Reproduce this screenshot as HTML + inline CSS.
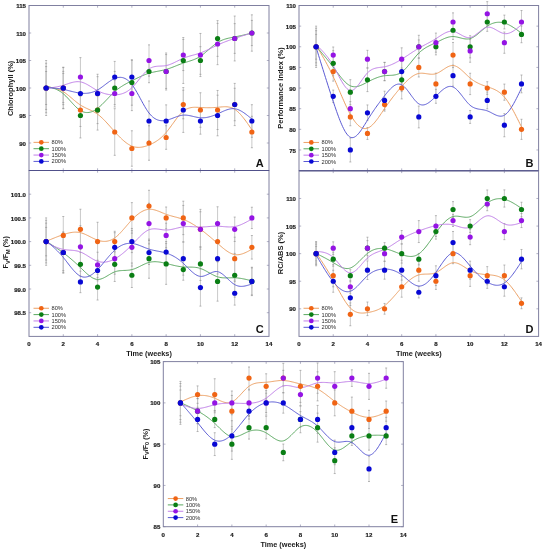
<!DOCTYPE html><html><head><meta charset="utf-8"><style>html,body{margin:0;padding:0;background:#fff;width:544px;height:550px;overflow:hidden}svg{display:block;filter:blur(0.35px)}text{font-family:"Liberation Sans", sans-serif}</style></head><body>
<svg width="544" height="550" viewBox="0 0 544 550">
<rect width="544" height="550" fill="#fff"/>
<g><path d="M46.14 60.50V115.50M63.29 67.20V108.80M80.43 93.54V126.46M97.57 89.92V130.08M114.71 108.68V155.32M131.86 130.77V166.23M149.00 125.74V160.26M166.14 125.69V149.31M183.29 90.20V118.80M200.43 92.76V127.24M217.57 90.48V129.52M234.71 83.40V125.60M251.86 116.27V147.73M46.14 66.55V109.45M63.29 73.45V102.55M80.43 93.05V137.95M97.57 96.40V123.60M114.71 71.37V104.63M131.86 59.78V105.22M149.00 60.29V82.71M166.14 52.98V90.02M183.29 37.54V83.46M200.43 46.68V74.32M217.57 20.64V56.36M234.71 16.06V60.94M251.86 20.42V45.58M46.14 71.50V104.50M63.29 67.58V108.42M80.43 57.61V96.39M97.57 76.67V110.33M114.71 80.01V106.99M131.86 76.37V110.63M149.00 44.88V76.12M166.14 54.54V88.46M183.29 39.46V70.54M200.43 33.46V76.54M217.57 23.34V64.66M234.71 23.62V53.38M251.86 14.83V51.17M46.14 63.25V112.75M63.29 71.36V104.64M80.43 78.13V108.87M97.57 74.26V112.74M114.71 61.40V92.60M131.86 60.28V93.72M149.00 100.97V141.03M166.14 104.86V137.14M183.29 87.59V132.41M200.43 107.82V134.18M217.57 95.19V135.81M234.71 88.24V120.76M251.86 104.69V137.31" stroke="#c4c4c4" stroke-width="0.9" fill="none"/><path d="M45.14 60.50h2M45.14 115.50h2M62.29 67.20h2M62.29 108.80h2M79.43 93.54h2M79.43 126.46h2M96.57 89.92h2M96.57 130.08h2M113.71 108.68h2M113.71 155.32h2M130.86 130.77h2M130.86 166.23h2M148.00 125.74h2M148.00 160.26h2M165.14 125.69h2M165.14 149.31h2M182.29 90.20h2M182.29 118.80h2M199.43 92.76h2M199.43 127.24h2M216.57 90.48h2M216.57 129.52h2M233.71 83.40h2M233.71 125.60h2M250.86 116.27h2M250.86 147.73h2M45.14 66.55h2M45.14 109.45h2M62.29 73.45h2M62.29 102.55h2M79.43 93.05h2M79.43 137.95h2M96.57 96.40h2M96.57 123.60h2M113.71 71.37h2M113.71 104.63h2M130.86 59.78h2M130.86 105.22h2M148.00 60.29h2M148.00 82.71h2M165.14 52.98h2M165.14 90.02h2M182.29 37.54h2M182.29 83.46h2M199.43 46.68h2M199.43 74.32h2M216.57 20.64h2M216.57 56.36h2M233.71 16.06h2M233.71 60.94h2M250.86 20.42h2M250.86 45.58h2M45.14 71.50h2M45.14 104.50h2M62.29 67.58h2M62.29 108.42h2M79.43 57.61h2M79.43 96.39h2M96.57 76.67h2M96.57 110.33h2M113.71 80.01h2M113.71 106.99h2M130.86 76.37h2M130.86 110.63h2M148.00 44.88h2M148.00 76.12h2M165.14 54.54h2M165.14 88.46h2M182.29 39.46h2M182.29 70.54h2M199.43 33.46h2M199.43 76.54h2M216.57 23.34h2M216.57 64.66h2M233.71 23.62h2M233.71 53.38h2M250.86 14.83h2M250.86 51.17h2M45.14 63.25h2M45.14 112.75h2M62.29 71.36h2M62.29 104.64h2M79.43 78.13h2M79.43 108.87h2M96.57 74.26h2M96.57 112.74h2M113.71 61.40h2M113.71 92.60h2M130.86 60.28h2M130.86 93.72h2M148.00 100.97h2M148.00 141.03h2M165.14 104.86h2M165.14 137.14h2M182.29 87.59h2M182.29 132.41h2M199.43 107.82h2M199.43 134.18h2M216.57 95.19h2M216.57 135.81h2M233.71 88.24h2M233.71 120.76h2M250.86 104.69h2M250.86 137.31h2" stroke="#8c8c8c" stroke-width="0.6" fill="none"/><path d="M46.14,86.72 L47.00,86.83 L47.86,86.95 L48.71,87.08 L49.57,87.20 L50.43,87.34 L51.29,87.49 L52.14,87.65 L53.00,87.82 L53.86,88.01 L54.71,88.22 L55.57,88.45 L56.43,88.70 L57.29,88.97 L58.14,89.27 L59.00,89.60 L59.86,89.96 L60.71,90.35 L61.57,90.77 L62.43,91.23 L63.29,91.73 L64.14,92.27 L65.00,92.84 L65.86,93.45 L66.71,94.08 L67.57,94.74 L68.43,95.42 L69.29,96.12 L70.14,96.83 L71.00,97.56 L71.86,98.28 L72.71,99.01 L73.57,99.74 L74.43,100.46 L75.29,101.17 L76.14,101.87 L77.00,102.55 L77.86,103.21 L78.71,103.85 L79.57,104.46 L80.43,105.03 L81.29,105.57 L82.14,106.08 L83.00,106.56 L83.86,107.01 L84.71,107.45 L85.57,107.86 L86.43,108.27 L87.29,108.67 L88.14,109.06 L89.00,109.45 L89.86,109.84 L90.71,110.25 L91.57,110.66 L92.43,111.09 L93.29,111.53 L94.14,112.00 L95.00,112.50 L95.86,113.03 L96.71,113.59 L97.57,114.19 L98.43,114.83 L99.29,115.51 L100.14,116.23 L101.00,116.99 L101.86,117.77 L102.71,118.59 L103.57,119.43 L104.43,120.30 L105.29,121.19 L106.14,122.10 L107.00,123.03 L107.86,123.97 L108.71,124.92 L109.57,125.88 L110.43,126.84 L111.29,127.81 L112.14,128.78 L113.00,129.75 L113.86,130.72 L114.71,131.68 L115.57,132.63 L116.43,133.56 L117.29,134.49 L118.14,135.40 L119.00,136.29 L119.86,137.16 L120.71,138.01 L121.57,138.83 L122.43,139.63 L123.29,140.40 L124.14,141.14 L125.00,141.85 L125.86,142.53 L126.71,143.16 L127.57,143.76 L128.43,144.32 L129.29,144.83 L130.14,145.30 L131.00,145.72 L131.86,146.10 L132.71,146.42 L133.57,146.69 L134.43,146.92 L135.29,147.10 L136.14,147.23 L137.00,147.32 L137.86,147.37 L138.71,147.38 L139.57,147.36 L140.43,147.29 L141.29,147.19 L142.14,147.06 L143.00,146.90 L143.86,146.70 L144.71,146.48 L145.57,146.24 L146.43,145.96 L147.29,145.67 L148.14,145.35 L149.00,145.02 L149.86,144.66 L150.71,144.29 L151.57,143.89 L152.43,143.47 L153.29,143.03 L154.14,142.56 L155.00,142.07 L155.86,141.54 L156.71,140.99 L157.57,140.40 L158.43,139.79 L159.29,139.13 L160.14,138.44 L161.00,137.72 L161.86,136.95 L162.71,136.15 L163.57,135.30 L164.43,134.41 L165.29,133.47 L166.14,132.49 L167.00,131.46 L167.86,130.39 L168.71,129.28 L169.57,128.14 L170.43,126.99 L171.29,125.81 L172.14,124.63 L173.00,123.44 L173.86,122.26 L174.71,121.08 L175.57,119.92 L176.43,118.78 L177.29,117.67 L178.14,116.59 L179.00,115.56 L179.86,114.57 L180.71,113.63 L181.57,112.76 L182.43,111.95 L183.29,111.21 L184.14,110.55 L185.00,109.97 L185.86,109.46 L186.71,109.01 L187.57,108.62 L188.43,108.30 L189.29,108.02 L190.14,107.80 L191.00,107.62 L191.86,107.48 L192.71,107.38 L193.57,107.32 L194.43,107.28 L195.29,107.27 L196.14,107.28 L197.00,107.30 L197.86,107.34 L198.71,107.38 L199.57,107.43 L200.43,107.48 L201.29,107.53 L202.14,107.57 L203.00,107.61 L203.86,107.64 L204.71,107.67 L205.57,107.69 L206.43,107.70 L207.29,107.71 L208.14,107.72 L209.00,107.72 L209.86,107.71 L210.71,107.69 L211.57,107.67 L212.43,107.64 L213.29,107.61 L214.14,107.56 L215.00,107.51 L215.86,107.45 L216.71,107.39 L217.57,107.31 L218.43,107.23 L219.29,107.14 L220.14,107.05 L221.00,106.97 L221.86,106.89 L222.71,106.83 L223.57,106.77 L224.43,106.74 L225.29,106.74 L226.14,106.75 L227.00,106.80 L227.86,106.89 L228.71,107.02 L229.57,107.18 L230.43,107.40 L231.29,107.67 L232.14,107.99 L233.00,108.37 L233.86,108.81 L234.71,109.32 L235.57,109.90 L236.43,110.55 L237.29,111.27 L238.14,112.04 L239.00,112.87 L239.86,113.75 L240.71,114.68 L241.57,115.66 L242.43,116.69 L243.29,117.75 L244.14,118.84 L245.00,119.97 L245.86,121.13 L246.71,122.31 L247.57,123.51 L248.43,124.73 L249.29,125.97 L250.14,127.22 L251.00,128.47 L251.86,129.72" stroke="#eca064" stroke-width="1" fill="none"/><path d="M46.14,86.29 L47.00,86.49 L47.86,86.69 L48.71,86.89 L49.57,87.10 L50.43,87.33 L51.29,87.56 L52.14,87.81 L53.00,88.08 L53.86,88.38 L54.71,88.69 L55.57,89.03 L56.43,89.41 L57.29,89.81 L58.14,90.25 L59.00,90.72 L59.86,91.24 L60.71,91.80 L61.57,92.40 L62.43,93.05 L63.29,93.75 L64.14,94.51 L65.00,95.31 L65.86,96.15 L66.71,97.03 L67.57,97.93 L68.43,98.85 L69.29,99.80 L70.14,100.75 L71.00,101.70 L71.86,102.65 L72.71,103.59 L73.57,104.51 L74.43,105.41 L75.29,106.28 L76.14,107.12 L77.00,107.91 L77.86,108.66 L78.71,109.35 L79.57,109.98 L80.43,110.55 L81.29,111.04 L82.14,111.46 L83.00,111.81 L83.86,112.10 L84.71,112.31 L85.57,112.46 L86.43,112.54 L87.29,112.56 L88.14,112.52 L89.00,112.42 L89.86,112.26 L90.71,112.04 L91.57,111.77 L92.43,111.44 L93.29,111.05 L94.14,110.62 L95.00,110.13 L95.86,109.60 L96.71,109.02 L97.57,108.39 L98.43,107.72 L99.29,107.00 L100.14,106.25 L101.00,105.47 L101.86,104.65 L102.71,103.81 L103.57,102.95 L104.43,102.07 L105.29,101.18 L106.14,100.28 L107.00,99.38 L107.86,98.47 L108.71,97.56 L109.57,96.66 L110.43,95.77 L111.29,94.90 L112.14,94.04 L113.00,93.21 L113.86,92.40 L114.71,91.62 L115.57,90.87 L116.43,90.15 L117.29,89.47 L118.14,88.81 L119.00,88.18 L119.86,87.58 L120.71,87.00 L121.57,86.44 L122.43,85.90 L123.29,85.38 L124.14,84.87 L125.00,84.38 L125.86,83.91 L126.71,83.44 L127.57,82.98 L128.43,82.54 L129.29,82.09 L130.14,81.66 L131.00,81.22 L131.86,80.79 L132.71,80.35 L133.57,79.92 L134.43,79.49 L135.29,79.06 L136.14,78.63 L137.00,78.21 L137.86,77.79 L138.71,77.38 L139.57,76.97 L140.43,76.58 L141.29,76.19 L142.14,75.81 L143.00,75.44 L143.86,75.08 L144.71,74.74 L145.57,74.41 L146.43,74.10 L147.29,73.80 L148.14,73.51 L149.00,73.25 L149.86,73.00 L150.71,72.77 L151.57,72.55 L152.43,72.35 L153.29,72.16 L154.14,71.97 L155.00,71.80 L155.86,71.63 L156.71,71.47 L157.57,71.30 L158.43,71.14 L159.29,70.98 L160.14,70.81 L161.00,70.64 L161.86,70.47 L162.71,70.28 L163.57,70.09 L164.43,69.88 L165.29,69.66 L166.14,69.43 L167.00,69.17 L167.86,68.91 L168.71,68.62 L169.57,68.33 L170.43,68.02 L171.29,67.71 L172.14,67.38 L173.00,67.05 L173.86,66.72 L174.71,66.38 L175.57,66.04 L176.43,65.69 L177.29,65.35 L178.14,65.01 L179.00,64.67 L179.86,64.34 L180.71,64.02 L181.57,63.70 L182.43,63.39 L183.29,63.09 L184.14,62.80 L185.00,62.53 L185.86,62.26 L186.71,61.99 L187.57,61.73 L188.43,61.47 L189.29,61.20 L190.14,60.93 L191.00,60.65 L191.86,60.36 L192.71,60.05 L193.57,59.73 L194.43,59.39 L195.29,59.03 L196.14,58.64 L197.00,58.23 L197.86,57.79 L198.71,57.32 L199.57,56.81 L200.43,56.27 L201.29,55.68 L202.14,55.07 L203.00,54.42 L203.86,53.74 L204.71,53.05 L205.57,52.33 L206.43,51.59 L207.29,50.85 L208.14,50.10 L209.00,49.35 L209.86,48.59 L210.71,47.84 L211.57,47.10 L212.43,46.38 L213.29,45.67 L214.14,44.98 L215.00,44.32 L215.86,43.69 L216.71,43.09 L217.57,42.52 L218.43,42.00 L219.29,41.52 L220.14,41.07 L221.00,40.66 L221.86,40.28 L222.71,39.93 L223.57,39.61 L224.43,39.31 L225.29,39.04 L226.14,38.79 L227.00,38.56 L227.86,38.34 L228.71,38.14 L229.57,37.95 L230.43,37.77 L231.29,37.60 L232.14,37.43 L233.00,37.27 L233.86,37.10 L234.71,36.94 L235.57,36.77 L236.43,36.60 L237.29,36.42 L238.14,36.25 L239.00,36.07 L239.86,35.88 L240.71,35.69 L241.57,35.51 L242.43,35.31 L243.29,35.12 L244.14,34.93 L245.00,34.73 L245.86,34.53 L246.71,34.33 L247.57,34.13 L248.43,33.93 L249.29,33.73 L250.14,33.53 L251.00,33.32 L251.86,33.12" stroke="#5aa860" stroke-width="1" fill="none"/><path d="M46.14,88.47 L47.00,88.36 L47.86,88.25 L48.71,88.13 L49.57,88.02 L50.43,87.90 L51.29,87.78 L52.14,87.65 L53.00,87.52 L53.86,87.38 L54.71,87.24 L55.57,87.09 L56.43,86.93 L57.29,86.76 L58.14,86.58 L59.00,86.39 L59.86,86.19 L60.71,85.98 L61.57,85.76 L62.43,85.52 L63.29,85.27 L64.14,85.01 L65.00,84.73 L65.86,84.45 L66.71,84.16 L67.57,83.87 L68.43,83.59 L69.29,83.31 L70.14,83.04 L71.00,82.78 L71.86,82.55 L72.71,82.33 L73.57,82.14 L74.43,81.97 L75.29,81.84 L76.14,81.74 L77.00,81.68 L77.86,81.66 L78.71,81.69 L79.57,81.76 L80.43,81.89 L81.29,82.07 L82.14,82.31 L83.00,82.59 L83.86,82.91 L84.71,83.28 L85.57,83.68 L86.43,84.11 L87.29,84.57 L88.14,85.05 L89.00,85.55 L89.86,86.07 L90.71,86.60 L91.57,87.13 L92.43,87.67 L93.29,88.20 L94.14,88.73 L95.00,89.25 L95.86,89.76 L96.71,90.24 L97.57,90.71 L98.43,91.15 L99.29,91.56 L100.14,91.95 L101.00,92.31 L101.86,92.65 L102.71,92.97 L103.57,93.25 L104.43,93.52 L105.29,93.76 L106.14,93.97 L107.00,94.17 L107.86,94.34 L108.71,94.48 L109.57,94.61 L110.43,94.71 L111.29,94.78 L112.14,94.84 L113.00,94.88 L113.86,94.89 L114.71,94.88 L115.57,94.85 L116.43,94.80 L117.29,94.72 L118.14,94.61 L119.00,94.48 L119.86,94.32 L120.71,94.12 L121.57,93.89 L122.43,93.62 L123.29,93.32 L124.14,92.97 L125.00,92.59 L125.86,92.16 L126.71,91.68 L127.57,91.16 L128.43,90.58 L129.29,89.96 L130.14,89.28 L131.00,88.54 L131.86,87.75 L132.71,86.90 L133.57,86.00 L134.43,85.06 L135.29,84.07 L136.14,83.06 L137.00,82.02 L137.86,80.97 L138.71,79.90 L139.57,78.84 L140.43,77.78 L141.29,76.73 L142.14,75.70 L143.00,74.69 L143.86,73.72 L144.71,72.79 L145.57,71.90 L146.43,71.07 L147.29,70.30 L148.14,69.60 L149.00,68.97 L149.86,68.43 L150.71,67.96 L151.57,67.56 L152.43,67.23 L153.29,66.95 L154.14,66.72 L155.00,66.54 L155.86,66.40 L156.71,66.30 L157.57,66.22 L158.43,66.16 L159.29,66.12 L160.14,66.08 L161.00,66.05 L161.86,66.01 L162.71,65.96 L163.57,65.90 L164.43,65.82 L165.29,65.70 L166.14,65.56 L167.00,65.37 L167.86,65.14 L168.71,64.89 L169.57,64.60 L170.43,64.28 L171.29,63.93 L172.14,63.57 L173.00,63.19 L173.86,62.79 L174.71,62.37 L175.57,61.95 L176.43,61.53 L177.29,61.09 L178.14,60.66 L179.00,60.24 L179.86,59.81 L180.71,59.40 L181.57,59.00 L182.43,58.62 L183.29,58.25 L184.14,57.91 L185.00,57.59 L185.86,57.28 L186.71,56.99 L187.57,56.71 L188.43,56.45 L189.29,56.19 L190.14,55.95 L191.00,55.71 L191.86,55.47 L192.71,55.24 L193.57,55.01 L194.43,54.77 L195.29,54.54 L196.14,54.29 L197.00,54.04 L197.86,53.78 L198.71,53.51 L199.57,53.23 L200.43,52.92 L201.29,52.61 L202.14,52.28 L203.00,51.93 L203.86,51.57 L204.71,51.19 L205.57,50.81 L206.43,50.42 L207.29,50.01 L208.14,49.61 L209.00,49.19 L209.86,48.77 L210.71,48.35 L211.57,47.93 L212.43,47.50 L213.29,47.08 L214.14,46.66 L215.00,46.24 L215.86,45.83 L216.71,45.42 L217.57,45.02 L218.43,44.63 L219.29,44.24 L220.14,43.87 L221.00,43.50 L221.86,43.14 L222.71,42.78 L223.57,42.44 L224.43,42.09 L225.29,41.76 L226.14,41.43 L227.00,41.10 L227.86,40.79 L228.71,40.47 L229.57,40.16 L230.43,39.86 L231.29,39.55 L232.14,39.26 L233.00,38.96 L233.86,38.67 L234.71,38.38 L235.57,38.09 L236.43,37.81 L237.29,37.52 L238.14,37.24 L239.00,36.96 L239.86,36.69 L240.71,36.41 L241.57,36.14 L242.43,35.86 L243.29,35.59 L244.14,35.32 L245.00,35.05 L245.86,34.79 L246.71,34.52 L247.57,34.25 L248.43,33.99 L249.29,33.72 L250.14,33.46 L251.00,33.19 L251.86,32.93" stroke="#c080e8" stroke-width="1" fill="none"/><path d="M46.14,87.61 L47.00,87.66 L47.86,87.71 L48.71,87.76 L49.57,87.81 L50.43,87.87 L51.29,87.92 L52.14,87.99 L53.00,88.05 L53.86,88.12 L54.71,88.20 L55.57,88.28 L56.43,88.37 L57.29,88.46 L58.14,88.57 L59.00,88.68 L59.86,88.80 L60.71,88.93 L61.57,89.08 L62.43,89.23 L63.29,89.39 L64.14,89.57 L65.00,89.75 L65.86,89.95 L66.71,90.15 L67.57,90.36 L68.43,90.58 L69.29,90.79 L70.14,91.01 L71.00,91.23 L71.86,91.44 L72.71,91.65 L73.57,91.86 L74.43,92.06 L75.29,92.25 L76.14,92.43 L77.00,92.60 L77.86,92.76 L78.71,92.90 L79.57,93.03 L80.43,93.14 L81.29,93.23 L82.14,93.30 L83.00,93.34 L83.86,93.37 L84.71,93.37 L85.57,93.35 L86.43,93.31 L87.29,93.23 L88.14,93.14 L89.00,93.01 L89.86,92.85 L90.71,92.66 L91.57,92.45 L92.43,92.20 L93.29,91.91 L94.14,91.59 L95.00,91.24 L95.86,90.85 L96.71,90.43 L97.57,89.96 L98.43,89.46 L99.29,88.92 L100.14,88.36 L101.00,87.76 L101.86,87.15 L102.71,86.52 L103.57,85.88 L104.43,85.23 L105.29,84.57 L106.14,83.92 L107.00,83.28 L107.86,82.64 L108.71,82.02 L109.57,81.42 L110.43,80.85 L111.29,80.30 L112.14,79.79 L113.00,79.31 L113.86,78.88 L114.71,78.49 L115.57,78.16 L116.43,77.88 L117.29,77.65 L118.14,77.48 L119.00,77.38 L119.86,77.33 L120.71,77.35 L121.57,77.44 L122.43,77.59 L123.29,77.82 L124.14,78.12 L125.00,78.50 L125.86,78.95 L126.71,79.48 L127.57,80.10 L128.43,80.80 L129.29,81.58 L130.14,82.46 L131.00,83.42 L131.86,84.48 L132.71,85.64 L133.57,86.87 L134.43,88.19 L135.29,89.57 L136.14,91.01 L137.00,92.49 L137.86,94.02 L138.71,95.57 L139.57,97.15 L140.43,98.73 L141.29,100.31 L142.14,101.88 L143.00,103.44 L143.86,104.97 L144.71,106.46 L145.57,107.90 L146.43,109.28 L147.29,110.60 L148.14,111.85 L149.00,113.01 L149.86,114.07 L150.71,115.05 L151.57,115.93 L152.43,116.73 L153.29,117.45 L154.14,118.09 L155.00,118.65 L155.86,119.13 L156.71,119.55 L157.57,119.90 L158.43,120.18 L159.29,120.41 L160.14,120.57 L161.00,120.68 L161.86,120.73 L162.71,120.74 L163.57,120.70 L164.43,120.61 L165.29,120.48 L166.14,120.32 L167.00,120.12 L167.86,119.89 L168.71,119.64 L169.57,119.36 L170.43,119.06 L171.29,118.75 L172.14,118.43 L173.00,118.10 L173.86,117.77 L174.71,117.44 L175.57,117.12 L176.43,116.80 L177.29,116.50 L178.14,116.22 L179.00,115.96 L179.86,115.73 L180.71,115.53 L181.57,115.36 L182.43,115.23 L183.29,115.14 L184.14,115.09 L185.00,115.09 L185.86,115.13 L186.71,115.20 L187.57,115.30 L188.43,115.43 L189.29,115.58 L190.14,115.75 L191.00,115.93 L191.86,116.12 L192.71,116.32 L193.57,116.53 L194.43,116.73 L195.29,116.92 L196.14,117.11 L197.00,117.28 L197.86,117.44 L198.71,117.58 L199.57,117.69 L200.43,117.77 L201.29,117.82 L202.14,117.83 L203.00,117.82 L203.86,117.77 L204.71,117.70 L205.57,117.60 L206.43,117.47 L207.29,117.32 L208.14,117.14 L209.00,116.94 L209.86,116.72 L210.71,116.47 L211.57,116.21 L212.43,115.92 L213.29,115.62 L214.14,115.30 L215.00,114.97 L215.86,114.62 L216.71,114.25 L217.57,113.88 L218.43,113.49 L219.29,113.10 L220.14,112.70 L221.00,112.30 L221.86,111.90 L222.71,111.51 L223.57,111.13 L224.43,110.76 L225.29,110.42 L226.14,110.09 L227.00,109.78 L227.86,109.51 L228.71,109.27 L229.57,109.06 L230.43,108.89 L231.29,108.76 L232.14,108.68 L233.00,108.65 L233.86,108.68 L234.71,108.76 L235.57,108.90 L236.43,109.09 L237.29,109.35 L238.14,109.65 L239.00,110.00 L239.86,110.40 L240.71,110.84 L241.57,111.32 L242.43,111.84 L243.29,112.39 L244.14,112.97 L245.00,113.58 L245.86,114.21 L246.71,114.86 L247.57,115.53 L248.43,116.22 L249.29,116.92 L250.14,117.63 L251.00,118.34 L251.86,119.06" stroke="#5a5ad4" stroke-width="1" fill="none"/><circle cx="46.14" cy="88.00" r="2.6" fill="#f06414"/><circle cx="63.29" cy="88.00" r="2.6" fill="#f06414"/><circle cx="80.43" cy="110.00" r="2.6" fill="#f06414"/><circle cx="97.57" cy="110.00" r="2.6" fill="#f06414"/><circle cx="114.71" cy="132.00" r="2.6" fill="#f06414"/><circle cx="131.86" cy="148.50" r="2.6" fill="#f06414"/><circle cx="149.00" cy="143.00" r="2.6" fill="#f06414"/><circle cx="166.14" cy="137.50" r="2.6" fill="#f06414"/><circle cx="183.29" cy="104.50" r="2.6" fill="#f06414"/><circle cx="200.43" cy="110.00" r="2.6" fill="#f06414"/><circle cx="217.57" cy="110.00" r="2.6" fill="#f06414"/><circle cx="234.71" cy="104.50" r="2.6" fill="#f06414"/><circle cx="251.86" cy="132.00" r="2.6" fill="#f06414"/><circle cx="46.14" cy="88.00" r="2.6" fill="#0a7e14"/><circle cx="63.29" cy="88.00" r="2.6" fill="#0a7e14"/><circle cx="80.43" cy="115.50" r="2.6" fill="#0a7e14"/><circle cx="97.57" cy="110.00" r="2.6" fill="#0a7e14"/><circle cx="114.71" cy="88.00" r="2.6" fill="#0a7e14"/><circle cx="131.86" cy="82.50" r="2.6" fill="#0a7e14"/><circle cx="149.00" cy="71.50" r="2.6" fill="#0a7e14"/><circle cx="166.14" cy="71.50" r="2.6" fill="#0a7e14"/><circle cx="183.29" cy="60.50" r="2.6" fill="#0a7e14"/><circle cx="200.43" cy="60.50" r="2.6" fill="#0a7e14"/><circle cx="217.57" cy="38.50" r="2.6" fill="#0a7e14"/><circle cx="234.71" cy="38.50" r="2.6" fill="#0a7e14"/><circle cx="251.86" cy="33.00" r="2.6" fill="#0a7e14"/><circle cx="46.14" cy="88.00" r="2.6" fill="#9414e4"/><circle cx="63.29" cy="88.00" r="2.6" fill="#9414e4"/><circle cx="80.43" cy="77.00" r="2.6" fill="#9414e4"/><circle cx="97.57" cy="93.50" r="2.6" fill="#9414e4"/><circle cx="114.71" cy="93.50" r="2.6" fill="#9414e4"/><circle cx="131.86" cy="93.50" r="2.6" fill="#9414e4"/><circle cx="149.00" cy="60.50" r="2.6" fill="#9414e4"/><circle cx="166.14" cy="71.50" r="2.6" fill="#9414e4"/><circle cx="183.29" cy="55.00" r="2.6" fill="#9414e4"/><circle cx="200.43" cy="55.00" r="2.6" fill="#9414e4"/><circle cx="217.57" cy="44.00" r="2.6" fill="#9414e4"/><circle cx="234.71" cy="38.50" r="2.6" fill="#9414e4"/><circle cx="251.86" cy="33.00" r="2.6" fill="#9414e4"/><circle cx="46.14" cy="88.00" r="2.6" fill="#0808d4"/><circle cx="63.29" cy="88.00" r="2.6" fill="#0808d4"/><circle cx="80.43" cy="93.50" r="2.6" fill="#0808d4"/><circle cx="97.57" cy="93.50" r="2.6" fill="#0808d4"/><circle cx="114.71" cy="77.00" r="2.6" fill="#0808d4"/><circle cx="131.86" cy="77.00" r="2.6" fill="#0808d4"/><circle cx="149.00" cy="121.00" r="2.6" fill="#0808d4"/><circle cx="166.14" cy="121.00" r="2.6" fill="#0808d4"/><circle cx="183.29" cy="110.00" r="2.6" fill="#0808d4"/><circle cx="200.43" cy="121.00" r="2.6" fill="#0808d4"/><circle cx="217.57" cy="115.50" r="2.6" fill="#0808d4"/><circle cx="234.71" cy="104.50" r="2.6" fill="#0808d4"/><circle cx="251.86" cy="121.00" r="2.6" fill="#0808d4"/><rect x="29.00" y="5.50" width="240.00" height="165.00" fill="none" stroke="#8080a0" stroke-width="1"/><path d="M63.29 170.50v-2.2M63.29 5.50v2.2M97.57 170.50v-2.2M97.57 5.50v2.2M131.86 170.50v-2.2M131.86 5.50v2.2M166.14 170.50v-2.2M166.14 5.50v2.2M200.43 170.50v-2.2M200.43 5.50v2.2M234.71 170.50v-2.2M234.71 5.50v2.2M29.00 143.00h2.2M269.00 143.00h-2.2M29.00 115.50h2.2M269.00 115.50h-2.2M29.00 88.00h2.2M269.00 88.00h-2.2M29.00 60.50h2.2M269.00 60.50h-2.2M29.00 33.00h2.2M269.00 33.00h-2.2M29.00 5.50h2.2M269.00 5.50h-2.2" stroke="#8080a0" stroke-width="0.6" fill="none"/><text x="26.00" y="145.60" font-size="6.1" font-weight="bold" text-anchor="end" fill="#1a1a1a" stroke="#1a1a1a" stroke-width="0.18">90</text><text x="26.00" y="118.10" font-size="6.1" font-weight="bold" text-anchor="end" fill="#1a1a1a" stroke="#1a1a1a" stroke-width="0.18">95</text><text x="26.00" y="90.60" font-size="6.1" font-weight="bold" text-anchor="end" fill="#1a1a1a" stroke="#1a1a1a" stroke-width="0.18">100</text><text x="26.00" y="63.10" font-size="6.1" font-weight="bold" text-anchor="end" fill="#1a1a1a" stroke="#1a1a1a" stroke-width="0.18">105</text><text x="26.00" y="35.60" font-size="6.1" font-weight="bold" text-anchor="end" fill="#1a1a1a" stroke="#1a1a1a" stroke-width="0.18">110</text><text x="26.00" y="8.10" font-size="6.1" font-weight="bold" text-anchor="end" fill="#1a1a1a" stroke="#1a1a1a" stroke-width="0.18">115</text><text x="263.80" y="167.00" font-size="11" font-weight="bold" text-anchor="end" fill="#111">A</text><path d="M33.50 142.35h15.5" stroke="#eca064" stroke-width="1"/><circle cx="41.30" cy="142.35" r="2.35" fill="#f06414"/><text x="51.50" y="144.35" font-size="5.7" fill="#2a2a2a">80%</text><path d="M33.50 148.70h15.5" stroke="#5aa860" stroke-width="1"/><circle cx="41.30" cy="148.70" r="2.35" fill="#0a7e14"/><text x="51.50" y="150.70" font-size="5.7" fill="#2a2a2a">100%</text><path d="M33.50 155.05h15.5" stroke="#c080e8" stroke-width="1"/><circle cx="41.30" cy="155.05" r="2.35" fill="#9414e4"/><text x="51.50" y="157.05" font-size="5.7" fill="#2a2a2a">150%</text><path d="M33.50 161.40h15.5" stroke="#5a5ad4" stroke-width="1"/><circle cx="41.30" cy="161.40" r="2.35" fill="#0808d4"/><text x="51.50" y="163.40" font-size="5.7" fill="#2a2a2a">200%</text></g>
<g><path d="M316.11 26.14V67.41M333.23 61.97V81.11M350.34 108.12V125.76M367.46 127.50V139.41M384.57 97.98V111.14M401.69 77.19V98.91M418.80 57.83V76.99M435.91 73.15V94.69M453.03 42.46V67.60M470.14 73.24V94.60M487.26 81.74V94.36M504.37 84.09V100.26M521.49 119.27V139.38M316.11 30.68V62.87M333.23 50.65V75.92M350.34 79.68V104.67M367.46 67.97V91.62M384.57 62.32V80.76M401.69 68.02V91.57M418.80 39.92V53.63M435.91 38.69V54.86M453.03 21.11V39.42M470.14 35.69V57.86M487.26 12.70V31.32M504.37 15.12V28.90M521.49 26.07V42.72M316.11 34.39V59.16M333.23 47.00V63.06M350.34 101.60V115.78M367.46 50.34V67.98M384.57 62.49V80.59M401.69 47.84V70.47M418.80 35.31V58.24M435.91 33.08V52.21M453.03 12.87V31.15M470.14 39.56V62.24M487.26 1.66V25.85M504.37 32.02V53.27M521.49 10.52V33.50M316.11 28.20V65.35M333.23 90.08V102.53M350.34 137.95V161.98M367.46 104.95V120.68M384.57 91.19V109.68M401.69 60.07V83.01M418.80 106.03V127.86M435.91 89.34V103.27M453.03 65.16V86.18M470.14 110.52V123.37M487.26 92.01V108.85M504.37 113.62V136.78M521.49 75.01V92.83" stroke="#c4c4c4" stroke-width="0.9" fill="none"/><path d="M315.11 26.14h2M315.11 67.41h2M332.23 61.97h2M332.23 81.11h2M349.34 108.12h2M349.34 125.76h2M366.46 127.50h2M366.46 139.41h2M383.57 97.98h2M383.57 111.14h2M400.69 77.19h2M400.69 98.91h2M417.80 57.83h2M417.80 76.99h2M434.91 73.15h2M434.91 94.69h2M452.03 42.46h2M452.03 67.60h2M469.14 73.24h2M469.14 94.60h2M486.26 81.74h2M486.26 94.36h2M503.37 84.09h2M503.37 100.26h2M520.49 119.27h2M520.49 139.38h2M315.11 30.68h2M315.11 62.87h2M332.23 50.65h2M332.23 75.92h2M349.34 79.68h2M349.34 104.67h2M366.46 67.97h2M366.46 91.62h2M383.57 62.32h2M383.57 80.76h2M400.69 68.02h2M400.69 91.57h2M417.80 39.92h2M417.80 53.63h2M434.91 38.69h2M434.91 54.86h2M452.03 21.11h2M452.03 39.42h2M469.14 35.69h2M469.14 57.86h2M486.26 12.70h2M486.26 31.32h2M503.37 15.12h2M503.37 28.90h2M520.49 26.07h2M520.49 42.72h2M315.11 34.39h2M315.11 59.16h2M332.23 47.00h2M332.23 63.06h2M349.34 101.60h2M349.34 115.78h2M366.46 50.34h2M366.46 67.98h2M383.57 62.49h2M383.57 80.59h2M400.69 47.84h2M400.69 70.47h2M417.80 35.31h2M417.80 58.24h2M434.91 33.08h2M434.91 52.21h2M452.03 12.87h2M452.03 31.15h2M469.14 39.56h2M469.14 62.24h2M486.26 1.66h2M486.26 25.85h2M503.37 32.02h2M503.37 53.27h2M520.49 10.52h2M520.49 33.50h2M315.11 28.20h2M315.11 65.35h2M332.23 90.08h2M332.23 102.53h2M349.34 137.95h2M349.34 161.98h2M366.46 104.95h2M366.46 120.68h2M383.57 91.19h2M383.57 109.68h2M400.69 60.07h2M400.69 83.01h2M417.80 106.03h2M417.80 127.86h2M434.91 89.34h2M434.91 103.27h2M452.03 65.16h2M452.03 86.18h2M469.14 110.52h2M469.14 123.37h2M486.26 92.01h2M486.26 108.85h2M503.37 113.62h2M503.37 136.78h2M520.49 75.01h2M520.49 92.83h2" stroke="#8c8c8c" stroke-width="0.6" fill="none"/><path d="M316.11,45.40 L316.97,46.82 L317.83,48.24 L318.68,49.66 L319.54,51.10 L320.39,52.54 L321.25,53.99 L322.10,55.45 L322.96,56.93 L323.82,58.43 L324.67,59.94 L325.53,61.48 L326.38,63.04 L327.24,64.62 L328.09,66.24 L328.95,67.88 L329.81,69.56 L330.66,71.27 L331.52,73.02 L332.37,74.80 L333.23,76.63 L334.08,78.50 L334.94,80.40 L335.80,82.34 L336.65,84.30 L337.51,86.28 L338.36,88.28 L339.22,90.28 L340.07,92.29 L340.93,94.29 L341.79,96.29 L342.64,98.26 L343.50,100.22 L344.35,102.15 L345.21,104.05 L346.06,105.91 L346.92,107.73 L347.78,109.49 L348.63,111.20 L349.49,112.85 L350.34,114.44 L351.20,115.95 L352.05,117.38 L352.91,118.74 L353.77,120.02 L354.62,121.21 L355.48,122.33 L356.33,123.36 L357.19,124.31 L358.04,125.16 L358.90,125.93 L359.76,126.60 L360.61,127.19 L361.47,127.67 L362.32,128.06 L363.18,128.35 L364.03,128.53 L364.89,128.62 L365.75,128.60 L366.60,128.47 L367.46,128.23 L368.31,127.88 L369.17,127.43 L370.02,126.88 L370.88,126.24 L371.74,125.51 L372.59,124.70 L373.45,123.82 L374.30,122.88 L375.16,121.87 L376.01,120.81 L376.87,119.70 L377.73,118.55 L378.58,117.36 L379.44,116.14 L380.29,114.90 L381.15,113.65 L382.00,112.38 L382.86,111.11 L383.72,109.84 L384.57,108.58 L385.43,107.34 L386.28,106.11 L387.14,104.89 L387.99,103.69 L388.85,102.50 L389.71,101.33 L390.56,100.17 L391.42,99.03 L392.27,97.90 L393.13,96.78 L393.98,95.68 L394.84,94.60 L395.70,93.53 L396.55,92.47 L397.41,91.43 L398.26,90.40 L399.12,89.39 L399.97,88.39 L400.83,87.41 L401.69,86.44 L402.54,85.49 L403.40,84.55 L404.25,83.64 L405.11,82.74 L405.96,81.87 L406.82,81.03 L407.68,80.21 L408.53,79.43 L409.39,78.68 L410.24,77.97 L411.10,77.30 L411.95,76.67 L412.81,76.09 L413.67,75.55 L414.52,75.07 L415.38,74.63 L416.23,74.25 L417.09,73.92 L417.94,73.66 L418.80,73.46 L419.66,73.32 L420.51,73.24 L421.37,73.21 L422.22,73.22 L423.08,73.27 L423.93,73.35 L424.79,73.45 L425.65,73.57 L426.50,73.69 L427.36,73.82 L428.21,73.95 L429.07,74.06 L429.92,74.15 L430.78,74.22 L431.64,74.25 L432.49,74.25 L433.35,74.20 L434.20,74.09 L435.06,73.93 L435.91,73.70 L436.77,73.39 L437.63,73.02 L438.48,72.60 L439.34,72.12 L440.19,71.61 L441.05,71.07 L441.90,70.51 L442.76,69.94 L443.62,69.36 L444.47,68.80 L445.33,68.25 L446.18,67.72 L447.04,67.23 L447.89,66.78 L448.75,66.38 L449.61,66.05 L450.46,65.78 L451.32,65.60 L452.17,65.50 L453.03,65.50 L453.88,65.61 L454.74,65.81 L455.60,66.10 L456.45,66.48 L457.31,66.94 L458.16,67.46 L459.02,68.05 L459.87,68.69 L460.73,69.38 L461.59,70.12 L462.44,70.88 L463.30,71.67 L464.15,72.48 L465.01,73.30 L465.86,74.12 L466.72,74.94 L467.58,75.75 L468.43,76.54 L469.29,77.31 L470.14,78.04 L471.00,78.73 L471.85,79.39 L472.71,80.01 L473.57,80.59 L474.42,81.15 L475.28,81.67 L476.13,82.16 L476.99,82.62 L477.84,83.06 L478.70,83.48 L479.56,83.88 L480.41,84.25 L481.27,84.61 L482.12,84.95 L482.98,85.28 L483.83,85.59 L484.69,85.90 L485.55,86.20 L486.40,86.49 L487.26,86.77 L488.11,87.06 L488.97,87.34 L489.82,87.63 L490.68,87.93 L491.54,88.24 L492.39,88.56 L493.25,88.91 L494.10,89.28 L494.96,89.68 L495.81,90.11 L496.67,90.58 L497.53,91.09 L498.38,91.64 L499.24,92.23 L500.09,92.88 L500.95,93.59 L501.80,94.35 L502.66,95.18 L503.52,96.07 L504.37,97.03 L505.23,98.07 L506.08,99.17 L506.94,100.35 L507.79,101.58 L508.65,102.88 L509.51,104.23 L510.36,105.64 L511.22,107.09 L512.07,108.59 L512.93,110.13 L513.78,111.70 L514.64,113.31 L515.50,114.95 L516.35,116.62 L517.21,118.30 L518.06,120.01 L518.92,121.73 L519.77,123.46 L520.63,125.20 L521.49,126.94" stroke="#eca064" stroke-width="1" fill="none"/><path d="M316.11,46.31 L316.97,47.30 L317.83,48.29 L318.68,49.28 L319.54,50.27 L320.39,51.27 L321.25,52.27 L322.10,53.28 L322.96,54.29 L323.82,55.30 L324.67,56.33 L325.53,57.36 L326.38,58.40 L327.24,59.44 L328.09,60.50 L328.95,61.57 L329.81,62.65 L330.66,63.74 L331.52,64.84 L332.37,65.95 L333.23,67.08 L334.08,68.23 L334.94,69.38 L335.80,70.54 L336.65,71.69 L337.51,72.84 L338.36,73.98 L339.22,75.10 L340.07,76.20 L340.93,77.28 L341.79,78.32 L342.64,79.32 L343.50,80.28 L344.35,81.20 L345.21,82.06 L346.06,82.86 L346.92,83.60 L347.78,84.27 L348.63,84.87 L349.49,85.39 L350.34,85.82 L351.20,86.17 L352.05,86.43 L352.91,86.61 L353.77,86.72 L354.62,86.76 L355.48,86.73 L356.33,86.64 L357.19,86.49 L358.04,86.29 L358.90,86.05 L359.76,85.76 L360.61,85.44 L361.47,85.08 L362.32,84.70 L363.18,84.29 L364.03,83.87 L364.89,83.43 L365.75,82.98 L366.60,82.53 L367.46,82.08 L368.31,81.63 L369.17,81.19 L370.02,80.76 L370.88,80.34 L371.74,79.92 L372.59,79.52 L373.45,79.13 L374.30,78.75 L375.16,78.39 L376.01,78.05 L376.87,77.72 L377.73,77.41 L378.58,77.12 L379.44,76.84 L380.29,76.60 L381.15,76.37 L382.00,76.17 L382.86,75.99 L383.72,75.84 L384.57,75.72 L385.43,75.62 L386.28,75.55 L387.14,75.49 L387.99,75.45 L388.85,75.41 L389.71,75.38 L390.56,75.35 L391.42,75.30 L392.27,75.24 L393.13,75.16 L393.98,75.06 L394.84,74.92 L395.70,74.75 L396.55,74.54 L397.41,74.28 L398.26,73.97 L399.12,73.61 L399.97,73.18 L400.83,72.68 L401.69,72.11 L402.54,71.47 L403.40,70.75 L404.25,69.97 L405.11,69.12 L405.96,68.23 L406.82,67.29 L407.68,66.31 L408.53,65.30 L409.39,64.27 L410.24,63.21 L411.10,62.15 L411.95,61.08 L412.81,60.01 L413.67,58.94 L414.52,57.90 L415.38,56.87 L416.23,55.87 L417.09,54.91 L417.94,53.98 L418.80,53.11 L419.66,52.28 L420.51,51.51 L421.37,50.79 L422.22,50.11 L423.08,49.47 L423.93,48.87 L424.79,48.31 L425.65,47.77 L426.50,47.27 L427.36,46.79 L428.21,46.33 L429.07,45.89 L429.92,45.47 L430.78,45.05 L431.64,44.65 L432.49,44.25 L433.35,43.86 L434.20,43.46 L435.06,43.06 L435.91,42.65 L436.77,42.24 L437.63,41.81 L438.48,41.38 L439.34,40.95 L440.19,40.53 L441.05,40.10 L441.90,39.69 L442.76,39.29 L443.62,38.90 L444.47,38.53 L445.33,38.18 L446.18,37.86 L447.04,37.56 L447.89,37.30 L448.75,37.06 L449.61,36.87 L450.46,36.71 L451.32,36.60 L452.17,36.54 L453.03,36.53 L453.88,36.56 L454.74,36.65 L455.60,36.77 L456.45,36.93 L457.31,37.11 L458.16,37.32 L459.02,37.54 L459.87,37.76 L460.73,37.98 L461.59,38.20 L462.44,38.41 L463.30,38.60 L464.15,38.76 L465.01,38.88 L465.86,38.97 L466.72,39.01 L467.58,39.00 L468.43,38.94 L469.29,38.80 L470.14,38.59 L471.00,38.31 L471.85,37.95 L472.71,37.53 L473.57,37.05 L474.42,36.51 L475.28,35.93 L476.13,35.30 L476.99,34.64 L477.84,33.95 L478.70,33.23 L479.56,32.50 L480.41,31.76 L481.27,31.01 L482.12,30.27 L482.98,29.53 L483.83,28.80 L484.69,28.10 L485.55,27.42 L486.40,26.78 L487.26,26.17 L488.11,25.61 L488.97,25.09 L489.82,24.62 L490.68,24.19 L491.54,23.81 L492.39,23.46 L493.25,23.16 L494.10,22.91 L494.96,22.69 L495.81,22.52 L496.67,22.39 L497.53,22.30 L498.38,22.25 L499.24,22.24 L500.09,22.28 L500.95,22.35 L501.80,22.46 L502.66,22.62 L503.52,22.81 L504.37,23.04 L505.23,23.31 L506.08,23.61 L506.94,23.95 L507.79,24.32 L508.65,24.73 L509.51,25.16 L510.36,25.62 L511.22,26.10 L512.07,26.61 L512.93,27.14 L513.78,27.68 L514.64,28.25 L515.50,28.83 L516.35,29.42 L517.21,30.03 L518.06,30.64 L518.92,31.27 L519.77,31.89 L520.63,32.53 L521.49,33.16" stroke="#5aa860" stroke-width="1" fill="none"/><path d="M316.11,44.69 L316.97,45.52 L317.83,46.35 L318.68,47.19 L319.54,48.04 L320.39,48.91 L321.25,49.79 L322.10,50.68 L322.96,51.61 L323.82,52.55 L324.67,53.53 L325.53,54.54 L326.38,55.58 L327.24,56.67 L328.09,57.80 L328.95,58.97 L329.81,60.19 L330.66,61.46 L331.52,62.79 L332.37,64.18 L333.23,65.63 L334.08,67.14 L334.94,68.70 L335.80,70.30 L336.65,71.93 L337.51,73.57 L338.36,75.20 L339.22,76.83 L340.07,78.42 L340.93,79.98 L341.79,81.47 L342.64,82.91 L343.50,84.26 L344.35,85.51 L345.21,86.66 L346.06,87.69 L346.92,88.58 L347.78,89.32 L348.63,89.91 L349.49,90.32 L350.34,90.54 L351.20,90.56 L352.05,90.40 L352.91,90.07 L353.77,89.59 L354.62,88.96 L355.48,88.21 L356.33,87.34 L357.19,86.38 L358.04,85.34 L358.90,84.24 L359.76,83.09 L360.61,81.90 L361.47,80.69 L362.32,79.47 L363.18,78.27 L364.03,77.09 L364.89,75.95 L365.75,74.86 L366.60,73.85 L367.46,72.92 L368.31,72.09 L369.17,71.35 L370.02,70.70 L370.88,70.13 L371.74,69.63 L372.59,69.20 L373.45,68.84 L374.30,68.53 L375.16,68.27 L376.01,68.05 L376.87,67.86 L377.73,67.71 L378.58,67.58 L379.44,67.47 L380.29,67.36 L381.15,67.26 L382.00,67.16 L382.86,67.05 L383.72,66.92 L384.57,66.77 L385.43,66.60 L386.28,66.39 L387.14,66.16 L387.99,65.91 L388.85,65.63 L389.71,65.32 L390.56,65.00 L391.42,64.65 L392.27,64.28 L393.13,63.90 L393.98,63.49 L394.84,63.07 L395.70,62.63 L396.55,62.17 L397.41,61.71 L398.26,61.22 L399.12,60.73 L399.97,60.22 L400.83,59.71 L401.69,59.18 L402.54,58.65 L403.40,58.11 L404.25,57.56 L405.11,57.01 L405.96,56.45 L406.82,55.89 L407.68,55.33 L408.53,54.77 L409.39,54.20 L410.24,53.64 L411.10,53.08 L411.95,52.52 L412.81,51.96 L413.67,51.41 L414.52,50.86 L415.38,50.32 L416.23,49.78 L417.09,49.26 L417.94,48.74 L418.80,48.23 L419.66,47.74 L420.51,47.25 L421.37,46.78 L422.22,46.30 L423.08,45.84 L423.93,45.38 L424.79,44.92 L425.65,44.47 L426.50,44.01 L427.36,43.56 L428.21,43.10 L429.07,42.64 L429.92,42.18 L430.78,41.71 L431.64,41.23 L432.49,40.74 L433.35,40.24 L434.20,39.74 L435.06,39.22 L435.91,38.68 L436.77,38.13 L437.63,37.57 L438.48,37.01 L439.34,36.45 L440.19,35.89 L441.05,35.33 L441.90,34.80 L442.76,34.28 L443.62,33.79 L444.47,33.32 L445.33,32.89 L446.18,32.50 L447.04,32.15 L447.89,31.85 L448.75,31.60 L449.61,31.41 L450.46,31.28 L451.32,31.22 L452.17,31.24 L453.03,31.33 L453.88,31.50 L454.74,31.74 L455.60,32.05 L456.45,32.41 L457.31,32.82 L458.16,33.26 L459.02,33.72 L459.87,34.20 L460.73,34.68 L461.59,35.16 L462.44,35.63 L463.30,36.07 L464.15,36.48 L465.01,36.84 L465.86,37.15 L466.72,37.40 L467.58,37.58 L468.43,37.67 L469.29,37.67 L470.14,37.58 L471.00,37.37 L471.85,37.06 L472.71,36.67 L473.57,36.20 L474.42,35.66 L475.28,35.07 L476.13,34.43 L476.99,33.76 L477.84,33.07 L478.70,32.36 L479.56,31.66 L480.41,30.97 L481.27,30.30 L482.12,29.67 L482.98,29.08 L483.83,28.55 L484.69,28.08 L485.55,27.69 L486.40,27.40 L487.26,27.20 L488.11,27.11 L488.97,27.13 L489.82,27.23 L490.68,27.42 L491.54,27.69 L492.39,28.01 L493.25,28.39 L494.10,28.81 L494.96,29.26 L495.81,29.74 L496.67,30.23 L497.53,30.72 L498.38,31.21 L499.24,31.68 L500.09,32.12 L500.95,32.53 L501.80,32.89 L502.66,33.20 L503.52,33.44 L504.37,33.61 L505.23,33.69 L506.08,33.69 L506.94,33.62 L507.79,33.47 L508.65,33.25 L509.51,32.98 L510.36,32.64 L511.22,32.24 L512.07,31.80 L512.93,31.30 L513.78,30.77 L514.64,30.20 L515.50,29.59 L516.35,28.95 L517.21,28.29 L518.06,27.60 L518.92,26.90 L519.77,26.19 L520.63,25.47 L521.49,24.74" stroke="#c080e8" stroke-width="1" fill="none"/><path d="M316.11,47.38 L316.97,50.15 L317.83,52.91 L318.68,55.68 L319.54,58.44 L320.39,61.19 L321.25,63.94 L322.10,66.69 L322.96,69.43 L323.82,72.16 L324.67,74.89 L325.53,77.60 L326.38,80.30 L327.24,83.00 L328.09,85.68 L328.95,88.34 L329.81,91.00 L330.66,93.63 L331.52,96.25 L332.37,98.86 L333.23,101.44 L334.08,104.01 L334.94,106.55 L335.80,109.05 L336.65,111.51 L337.51,113.91 L338.36,116.24 L339.22,118.51 L340.07,120.69 L340.93,122.78 L341.79,124.77 L342.64,126.65 L343.50,128.42 L344.35,130.06 L345.21,131.56 L346.06,132.92 L346.92,134.12 L347.78,135.17 L348.63,136.04 L349.49,136.73 L350.34,137.23 L351.20,137.53 L352.05,137.65 L352.91,137.59 L353.77,137.37 L354.62,136.99 L355.48,136.46 L356.33,135.81 L357.19,135.03 L358.04,134.14 L358.90,133.15 L359.76,132.07 L360.61,130.92 L361.47,129.69 L362.32,128.41 L363.18,127.08 L364.03,125.72 L364.89,124.34 L365.75,122.94 L366.60,121.54 L367.46,120.15 L368.31,118.78 L369.17,117.42 L370.02,116.09 L370.88,114.77 L371.74,113.47 L372.59,112.19 L373.45,110.93 L374.30,109.68 L375.16,108.45 L376.01,107.23 L376.87,106.03 L377.73,104.84 L378.58,103.67 L379.44,102.50 L380.29,101.35 L381.15,100.22 L382.00,99.09 L382.86,97.97 L383.72,96.87 L384.57,95.77 L385.43,94.69 L386.28,93.62 L387.14,92.57 L387.99,91.55 L388.85,90.57 L389.71,89.63 L390.56,88.75 L391.42,87.91 L392.27,87.14 L393.13,86.45 L393.98,85.82 L394.84,85.28 L395.70,84.84 L396.55,84.48 L397.41,84.24 L398.26,84.10 L399.12,84.08 L399.97,84.18 L400.83,84.41 L401.69,84.78 L402.54,85.30 L403.40,85.94 L404.25,86.70 L405.11,87.56 L405.96,88.50 L406.82,89.53 L407.68,90.61 L408.53,91.74 L409.39,92.90 L410.24,94.08 L411.10,95.27 L411.95,96.45 L412.81,97.60 L413.67,98.71 L414.52,99.78 L415.38,100.78 L416.23,101.70 L417.09,102.52 L417.94,103.24 L418.80,103.84 L419.66,104.31 L420.51,104.65 L421.37,104.87 L422.22,104.97 L423.08,104.96 L423.93,104.86 L424.79,104.65 L425.65,104.36 L426.50,103.98 L427.36,103.53 L428.21,103.01 L429.07,102.42 L429.92,101.78 L430.78,101.08 L431.64,100.35 L432.49,99.57 L433.35,98.77 L434.20,97.94 L435.06,97.10 L435.91,96.24 L436.77,95.38 L437.63,94.52 L438.48,93.67 L439.34,92.83 L440.19,92.02 L441.05,91.24 L441.90,90.49 L442.76,89.78 L443.62,89.12 L444.47,88.52 L445.33,87.97 L446.18,87.50 L447.04,87.10 L447.89,86.78 L448.75,86.55 L449.61,86.42 L450.46,86.38 L451.32,86.46 L452.17,86.65 L453.03,86.96 L453.88,87.39 L454.74,87.94 L455.60,88.60 L456.45,89.35 L457.31,90.19 L458.16,91.10 L459.02,92.07 L459.87,93.09 L460.73,94.15 L461.59,95.24 L462.44,96.35 L463.30,97.46 L464.15,98.57 L465.01,99.67 L465.86,100.73 L466.72,101.76 L467.58,102.74 L468.43,103.67 L469.29,104.52 L470.14,105.29 L471.00,105.97 L471.85,106.56 L472.71,107.08 L473.57,107.52 L474.42,107.90 L475.28,108.23 L476.13,108.50 L476.99,108.74 L477.84,108.94 L478.70,109.11 L479.56,109.26 L480.41,109.39 L481.27,109.52 L482.12,109.65 L482.98,109.79 L483.83,109.94 L484.69,110.12 L485.55,110.33 L486.40,110.57 L487.26,110.86 L488.11,111.19 L488.97,111.57 L489.82,111.98 L490.68,112.41 L491.54,112.86 L492.39,113.32 L493.25,113.77 L494.10,114.21 L494.96,114.62 L495.81,115.01 L496.67,115.36 L497.53,115.66 L498.38,115.90 L499.24,116.07 L500.09,116.17 L500.95,116.18 L501.80,116.10 L502.66,115.91 L503.52,115.62 L504.37,115.20 L505.23,114.65 L506.08,113.98 L506.94,113.19 L507.79,112.29 L508.65,111.28 L509.51,110.18 L510.36,108.98 L511.22,107.70 L512.07,106.35 L512.93,104.92 L513.78,103.42 L514.64,101.87 L515.50,100.26 L516.35,98.61 L517.21,96.92 L518.06,95.19 L518.92,93.45 L519.77,91.68 L520.63,89.89 L521.49,88.10" stroke="#5a5ad4" stroke-width="1" fill="none"/><circle cx="316.11" cy="46.77" r="2.6" fill="#f06414"/><circle cx="333.23" cy="71.54" r="2.6" fill="#f06414"/><circle cx="350.34" cy="116.94" r="2.6" fill="#f06414"/><circle cx="367.46" cy="133.45" r="2.6" fill="#f06414"/><circle cx="384.57" cy="104.56" r="2.6" fill="#f06414"/><circle cx="401.69" cy="88.05" r="2.6" fill="#f06414"/><circle cx="418.80" cy="67.41" r="2.6" fill="#f06414"/><circle cx="435.91" cy="83.92" r="2.6" fill="#f06414"/><circle cx="453.03" cy="55.03" r="2.6" fill="#f06414"/><circle cx="470.14" cy="83.92" r="2.6" fill="#f06414"/><circle cx="487.26" cy="88.05" r="2.6" fill="#f06414"/><circle cx="504.37" cy="92.18" r="2.6" fill="#f06414"/><circle cx="521.49" cy="129.32" r="2.6" fill="#f06414"/><circle cx="316.11" cy="46.77" r="2.6" fill="#0a7e14"/><circle cx="333.23" cy="63.29" r="2.6" fill="#0a7e14"/><circle cx="350.34" cy="92.18" r="2.6" fill="#0a7e14"/><circle cx="367.46" cy="79.80" r="2.6" fill="#0a7e14"/><circle cx="384.57" cy="71.54" r="2.6" fill="#0a7e14"/><circle cx="401.69" cy="79.80" r="2.6" fill="#0a7e14"/><circle cx="418.80" cy="46.77" r="2.6" fill="#0a7e14"/><circle cx="435.91" cy="46.77" r="2.6" fill="#0a7e14"/><circle cx="453.03" cy="30.27" r="2.6" fill="#0a7e14"/><circle cx="470.14" cy="46.77" r="2.6" fill="#0a7e14"/><circle cx="487.26" cy="22.01" r="2.6" fill="#0a7e14"/><circle cx="504.37" cy="22.01" r="2.6" fill="#0a7e14"/><circle cx="521.49" cy="34.39" r="2.6" fill="#0a7e14"/><circle cx="316.11" cy="46.77" r="2.6" fill="#9414e4"/><circle cx="333.23" cy="55.03" r="2.6" fill="#9414e4"/><circle cx="350.34" cy="108.69" r="2.6" fill="#9414e4"/><circle cx="367.46" cy="59.16" r="2.6" fill="#9414e4"/><circle cx="384.57" cy="71.54" r="2.6" fill="#9414e4"/><circle cx="401.69" cy="59.16" r="2.6" fill="#9414e4"/><circle cx="418.80" cy="46.77" r="2.6" fill="#9414e4"/><circle cx="435.91" cy="42.65" r="2.6" fill="#9414e4"/><circle cx="453.03" cy="22.01" r="2.6" fill="#9414e4"/><circle cx="470.14" cy="50.90" r="2.6" fill="#9414e4"/><circle cx="487.26" cy="13.75" r="2.6" fill="#9414e4"/><circle cx="504.37" cy="42.65" r="2.6" fill="#9414e4"/><circle cx="521.49" cy="22.01" r="2.6" fill="#9414e4"/><circle cx="316.11" cy="46.77" r="2.6" fill="#0808d4"/><circle cx="333.23" cy="96.31" r="2.6" fill="#0808d4"/><circle cx="350.34" cy="149.96" r="2.6" fill="#0808d4"/><circle cx="367.46" cy="112.81" r="2.6" fill="#0808d4"/><circle cx="384.57" cy="100.43" r="2.6" fill="#0808d4"/><circle cx="401.69" cy="71.54" r="2.6" fill="#0808d4"/><circle cx="418.80" cy="116.94" r="2.6" fill="#0808d4"/><circle cx="435.91" cy="96.31" r="2.6" fill="#0808d4"/><circle cx="453.03" cy="75.67" r="2.6" fill="#0808d4"/><circle cx="470.14" cy="116.94" r="2.6" fill="#0808d4"/><circle cx="487.26" cy="100.43" r="2.6" fill="#0808d4"/><circle cx="504.37" cy="125.20" r="2.6" fill="#0808d4"/><circle cx="521.49" cy="83.92" r="2.6" fill="#0808d4"/><rect x="299.00" y="5.50" width="239.60" height="165.10" fill="none" stroke="#8080a0" stroke-width="1"/><path d="M333.23 170.60v-2.2M333.23 5.50v2.2M367.46 170.60v-2.2M367.46 5.50v2.2M401.69 170.60v-2.2M401.69 5.50v2.2M435.91 170.60v-2.2M435.91 5.50v2.2M470.14 170.60v-2.2M470.14 5.50v2.2M504.37 170.60v-2.2M504.37 5.50v2.2M299.00 149.96h2.2M538.60 149.96h-2.2M299.00 129.32h2.2M538.60 129.32h-2.2M299.00 108.69h2.2M538.60 108.69h-2.2M299.00 88.05h2.2M538.60 88.05h-2.2M299.00 67.41h2.2M538.60 67.41h-2.2M299.00 46.77h2.2M538.60 46.77h-2.2M299.00 26.14h2.2M538.60 26.14h-2.2M299.00 5.50h2.2M538.60 5.50h-2.2" stroke="#8080a0" stroke-width="0.6" fill="none"/><text x="296.00" y="152.56" font-size="6.1" font-weight="bold" text-anchor="end" fill="#1a1a1a" stroke="#1a1a1a" stroke-width="0.18">75</text><text x="296.00" y="131.92" font-size="6.1" font-weight="bold" text-anchor="end" fill="#1a1a1a" stroke="#1a1a1a" stroke-width="0.18">80</text><text x="296.00" y="111.29" font-size="6.1" font-weight="bold" text-anchor="end" fill="#1a1a1a" stroke="#1a1a1a" stroke-width="0.18">85</text><text x="296.00" y="90.65" font-size="6.1" font-weight="bold" text-anchor="end" fill="#1a1a1a" stroke="#1a1a1a" stroke-width="0.18">90</text><text x="296.00" y="70.01" font-size="6.1" font-weight="bold" text-anchor="end" fill="#1a1a1a" stroke="#1a1a1a" stroke-width="0.18">95</text><text x="296.00" y="49.37" font-size="6.1" font-weight="bold" text-anchor="end" fill="#1a1a1a" stroke="#1a1a1a" stroke-width="0.18">100</text><text x="296.00" y="28.74" font-size="6.1" font-weight="bold" text-anchor="end" fill="#1a1a1a" stroke="#1a1a1a" stroke-width="0.18">105</text><text x="296.00" y="8.10" font-size="6.1" font-weight="bold" text-anchor="end" fill="#1a1a1a" stroke="#1a1a1a" stroke-width="0.18">110</text><text x="533.40" y="167.10" font-size="11" font-weight="bold" text-anchor="end" fill="#111">B</text><path d="M303.50 142.45h15.5" stroke="#eca064" stroke-width="1"/><circle cx="311.30" cy="142.45" r="2.35" fill="#f06414"/><text x="321.50" y="144.45" font-size="5.7" fill="#2a2a2a">80%</text><path d="M303.50 148.80h15.5" stroke="#5aa860" stroke-width="1"/><circle cx="311.30" cy="148.80" r="2.35" fill="#0a7e14"/><text x="321.50" y="150.80" font-size="5.7" fill="#2a2a2a">100%</text><path d="M303.50 155.15h15.5" stroke="#c080e8" stroke-width="1"/><circle cx="311.30" cy="155.15" r="2.35" fill="#9414e4"/><text x="321.50" y="157.15" font-size="5.7" fill="#2a2a2a">150%</text><path d="M303.50 161.50h15.5" stroke="#5a5ad4" stroke-width="1"/><circle cx="311.30" cy="161.50" r="2.35" fill="#0808d4"/><text x="321.50" y="163.50" font-size="5.7" fill="#2a2a2a">200%</text></g>
<g><path d="M46.14 217.90V265.30M63.29 216.50V254.37M80.43 209.23V249.32M97.57 222.28V260.92M114.71 231.28V251.92M131.86 202.64V233.16M149.00 190.28V221.82M166.14 207.00V228.80M183.29 201.19V234.61M200.43 211.78V246.77M217.57 221.47V261.73M234.71 237.18V280.15M251.86 235.52V259.06M46.14 223.11V260.09M63.29 234.39V270.61M80.43 252.53V276.17M97.57 274.19V300.02M114.71 247.25V281.46M131.86 262.99V287.52M149.00 239.08V278.25M166.14 243.40V284.35M183.29 258.93V280.21M200.43 247.28V280.48M217.57 261.66V301.17M234.71 253.37V297.14M251.86 267.90V294.93M46.14 227.38V255.82M63.29 231.79V273.21M80.43 225.72V267.91M97.57 252.23V277.42M114.71 243.15V274.18M131.86 228.46V266.12M149.00 203.25V243.92M166.14 223.19V247.69M183.29 205.41V241.77M200.43 209.39V249.16M217.57 206.78V240.39M234.71 217.07V241.48M251.86 207.24V228.56M46.14 220.27V262.93M63.29 232.61V272.39M80.43 271.12V292.66M97.57 260.18V280.85M114.71 232.73V261.85M131.86 230.60V252.60M149.00 240.48V264.53M166.14 241.51V262.54M183.29 242.16V275.17M200.43 269.02V306.14M217.57 243.32V274.00M234.71 281.42V305.11M251.86 267.22V295.61" stroke="#c4c4c4" stroke-width="0.9" fill="none"/><path d="M45.14 217.90h2M45.14 265.30h2M62.29 216.50h2M62.29 254.37h2M79.43 209.23h2M79.43 249.32h2M96.57 222.28h2M96.57 260.92h2M113.71 231.28h2M113.71 251.92h2M130.86 202.64h2M130.86 233.16h2M148.00 190.28h2M148.00 221.82h2M165.14 207.00h2M165.14 228.80h2M182.29 201.19h2M182.29 234.61h2M199.43 211.78h2M199.43 246.77h2M216.57 221.47h2M216.57 261.73h2M233.71 237.18h2M233.71 280.15h2M250.86 235.52h2M250.86 259.06h2M45.14 223.11h2M45.14 260.09h2M62.29 234.39h2M62.29 270.61h2M79.43 252.53h2M79.43 276.17h2M96.57 274.19h2M96.57 300.02h2M113.71 247.25h2M113.71 281.46h2M130.86 262.99h2M130.86 287.52h2M148.00 239.08h2M148.00 278.25h2M165.14 243.40h2M165.14 284.35h2M182.29 258.93h2M182.29 280.21h2M199.43 247.28h2M199.43 280.48h2M216.57 261.66h2M216.57 301.17h2M233.71 253.37h2M233.71 297.14h2M250.86 267.90h2M250.86 294.93h2M45.14 227.38h2M45.14 255.82h2M62.29 231.79h2M62.29 273.21h2M79.43 225.72h2M79.43 267.91h2M96.57 252.23h2M96.57 277.42h2M113.71 243.15h2M113.71 274.18h2M130.86 228.46h2M130.86 266.12h2M148.00 203.25h2M148.00 243.92h2M165.14 223.19h2M165.14 247.69h2M182.29 205.41h2M182.29 241.77h2M199.43 209.39h2M199.43 249.16h2M216.57 206.78h2M216.57 240.39h2M233.71 217.07h2M233.71 241.48h2M250.86 207.24h2M250.86 228.56h2M45.14 220.27h2M45.14 262.93h2M62.29 232.61h2M62.29 272.39h2M79.43 271.12h2M79.43 292.66h2M96.57 260.18h2M96.57 280.85h2M113.71 232.73h2M113.71 261.85h2M130.86 230.60h2M130.86 252.60h2M148.00 240.48h2M148.00 264.53h2M165.14 241.51h2M165.14 262.54h2M182.29 242.16h2M182.29 275.17h2M199.43 269.02h2M199.43 306.14h2M216.57 243.32h2M216.57 274.00h2M233.71 281.42h2M233.71 305.11h2M250.86 267.22h2M250.86 295.61h2" stroke="#8c8c8c" stroke-width="0.6" fill="none"/><path d="M46.14,241.35 L47.00,240.99 L47.86,240.63 L48.71,240.27 L49.57,239.91 L50.43,239.55 L51.29,239.19 L52.14,238.84 L53.00,238.48 L53.86,238.14 L54.71,237.79 L55.57,237.45 L56.43,237.11 L57.29,236.78 L58.14,236.45 L59.00,236.13 L59.86,235.81 L60.71,235.50 L61.57,235.20 L62.43,234.90 L63.29,234.61 L64.14,234.33 L65.00,234.06 L65.86,233.80 L66.71,233.55 L67.57,233.32 L68.43,233.10 L69.29,232.90 L70.14,232.72 L71.00,232.56 L71.86,232.43 L72.71,232.31 L73.57,232.23 L74.43,232.17 L75.29,232.14 L76.14,232.14 L77.00,232.18 L77.86,232.25 L78.71,232.35 L79.57,232.50 L80.43,232.68 L81.29,232.91 L82.14,233.17 L83.00,233.46 L83.86,233.79 L84.71,234.14 L85.57,234.51 L86.43,234.91 L87.29,235.32 L88.14,235.74 L89.00,236.17 L89.86,236.61 L90.71,237.04 L91.57,237.48 L92.43,237.90 L93.29,238.32 L94.14,238.72 L95.00,239.11 L95.86,239.48 L96.71,239.82 L97.57,240.13 L98.43,240.41 L99.29,240.66 L100.14,240.87 L101.00,241.05 L101.86,241.19 L102.71,241.30 L103.57,241.36 L104.43,241.38 L105.29,241.36 L106.14,241.29 L107.00,241.18 L107.86,241.03 L108.71,240.82 L109.57,240.57 L110.43,240.26 L111.29,239.90 L112.14,239.49 L113.00,239.03 L113.86,238.51 L114.71,237.93 L115.57,237.29 L116.43,236.60 L117.29,235.86 L118.14,235.07 L119.00,234.24 L119.86,233.38 L120.71,232.48 L121.57,231.55 L122.43,230.60 L123.29,229.63 L124.14,228.65 L125.00,227.66 L125.86,226.66 L126.71,225.65 L127.57,224.65 L128.43,223.66 L129.29,222.68 L130.14,221.71 L131.00,220.77 L131.86,219.85 L132.71,218.96 L133.57,218.09 L134.43,217.26 L135.29,216.47 L136.14,215.70 L137.00,214.98 L137.86,214.29 L138.71,213.63 L139.57,213.02 L140.43,212.45 L141.29,211.92 L142.14,211.44 L143.00,210.99 L143.86,210.60 L144.71,210.25 L145.57,209.96 L146.43,209.71 L147.29,209.52 L148.14,209.37 L149.00,209.29 L149.86,209.25 L150.71,209.27 L151.57,209.34 L152.43,209.45 L153.29,209.61 L154.14,209.80 L155.00,210.02 L155.86,210.28 L156.71,210.56 L157.57,210.86 L158.43,211.18 L159.29,211.52 L160.14,211.87 L161.00,212.22 L161.86,212.58 L162.71,212.94 L163.57,213.29 L164.43,213.64 L165.29,213.98 L166.14,214.30 L167.00,214.60 L167.86,214.89 L168.71,215.17 L169.57,215.43 L170.43,215.67 L171.29,215.92 L172.14,216.15 L173.00,216.38 L173.86,216.60 L174.71,216.83 L175.57,217.05 L176.43,217.28 L177.29,217.51 L178.14,217.75 L179.00,217.99 L179.86,218.25 L180.71,218.52 L181.57,218.80 L182.43,219.10 L183.29,219.41 L184.14,219.75 L185.00,220.10 L185.86,220.48 L186.71,220.87 L187.57,221.28 L188.43,221.71 L189.29,222.15 L190.14,222.61 L191.00,223.09 L191.86,223.58 L192.71,224.09 L193.57,224.61 L194.43,225.14 L195.29,225.69 L196.14,226.26 L197.00,226.83 L197.86,227.42 L198.71,228.02 L199.57,228.64 L200.43,229.26 L201.29,229.89 L202.14,230.54 L203.00,231.19 L203.86,231.86 L204.71,232.53 L205.57,233.21 L206.43,233.90 L207.29,234.59 L208.14,235.30 L209.00,236.01 L209.86,236.73 L210.71,237.45 L211.57,238.18 L212.43,238.91 L213.29,239.65 L214.14,240.39 L215.00,241.13 L215.86,241.88 L216.71,242.63 L217.57,243.39 L218.43,244.14 L219.29,244.90 L220.14,245.65 L221.00,246.39 L221.86,247.12 L222.71,247.84 L223.57,248.54 L224.43,249.22 L225.29,249.88 L226.14,250.51 L227.00,251.10 L227.86,251.67 L228.71,252.20 L229.57,252.69 L230.43,253.13 L231.29,253.53 L232.14,253.88 L233.00,254.18 L233.86,254.42 L234.71,254.60 L235.57,254.72 L236.43,254.78 L237.29,254.79 L238.14,254.74 L239.00,254.64 L239.86,254.49 L240.71,254.30 L241.57,254.07 L242.43,253.81 L243.29,253.51 L244.14,253.17 L245.00,252.81 L245.86,252.43 L246.71,252.02 L247.57,251.59 L248.43,251.15 L249.29,250.69 L250.14,250.23 L251.00,249.76 L251.86,249.29" stroke="#eca064" stroke-width="1" fill="none"/><path d="M46.14,241.30 L47.00,241.84 L47.86,242.38 L48.71,242.93 L49.57,243.48 L50.43,244.02 L51.29,244.58 L52.14,245.13 L53.00,245.69 L53.86,246.25 L54.71,246.81 L55.57,247.38 L56.43,247.96 L57.29,248.54 L58.14,249.13 L59.00,249.72 L59.86,250.32 L60.71,250.93 L61.57,251.55 L62.43,252.17 L63.29,252.81 L64.14,253.45 L65.00,254.10 L65.86,254.77 L66.71,255.44 L67.57,256.12 L68.43,256.81 L69.29,257.51 L70.14,258.22 L71.00,258.94 L71.86,259.67 L72.71,260.41 L73.57,261.16 L74.43,261.92 L75.29,262.69 L76.14,263.47 L77.00,264.25 L77.86,265.05 L78.71,265.85 L79.57,266.67 L80.43,267.49 L81.29,268.33 L82.14,269.17 L83.00,270.00 L83.86,270.84 L84.71,271.66 L85.57,272.47 L86.43,273.25 L87.29,274.02 L88.14,274.75 L89.00,275.45 L89.86,276.11 L90.71,276.72 L91.57,277.29 L92.43,277.80 L93.29,278.25 L94.14,278.64 L95.00,278.95 L95.86,279.20 L96.71,279.36 L97.57,279.44 L98.43,279.44 L99.29,279.35 L100.14,279.19 L101.00,278.96 L101.86,278.67 L102.71,278.33 L103.57,277.94 L104.43,277.51 L105.29,277.05 L106.14,276.57 L107.00,276.06 L107.86,275.55 L108.71,275.03 L109.57,274.51 L110.43,274.01 L111.29,273.52 L112.14,273.06 L113.00,272.62 L113.86,272.23 L114.71,271.88 L115.57,271.58 L116.43,271.33 L117.29,271.12 L118.14,270.96 L119.00,270.82 L119.86,270.71 L120.71,270.63 L121.57,270.57 L122.43,270.52 L123.29,270.48 L124.14,270.45 L125.00,270.42 L125.86,270.38 L126.71,270.34 L127.57,270.28 L128.43,270.20 L129.29,270.11 L130.14,269.98 L131.00,269.82 L131.86,269.63 L132.71,269.39 L133.57,269.12 L134.43,268.81 L135.29,268.47 L136.14,268.11 L137.00,267.73 L137.86,267.33 L138.71,266.92 L139.57,266.50 L140.43,266.07 L141.29,265.64 L142.14,265.22 L143.00,264.80 L143.86,264.40 L144.71,264.01 L145.57,263.64 L146.43,263.29 L147.29,262.97 L148.14,262.69 L149.00,262.44 L149.86,262.23 L150.71,262.06 L151.57,261.92 L152.43,261.82 L153.29,261.75 L154.14,261.71 L155.00,261.70 L155.86,261.72 L156.71,261.77 L157.57,261.84 L158.43,261.93 L159.29,262.04 L160.14,262.17 L161.00,262.32 L161.86,262.48 L162.71,262.65 L163.57,262.84 L164.43,263.03 L165.29,263.24 L166.14,263.44 L167.00,263.66 L167.86,263.87 L168.71,264.09 L169.57,264.30 L170.43,264.52 L171.29,264.74 L172.14,264.95 L173.00,265.16 L173.86,265.36 L174.71,265.56 L175.57,265.75 L176.43,265.93 L177.29,266.10 L178.14,266.26 L179.00,266.41 L179.86,266.55 L180.71,266.67 L181.57,266.77 L182.43,266.86 L183.29,266.94 L184.14,266.99 L185.00,267.03 L185.86,267.06 L186.71,267.07 L187.57,267.08 L188.43,267.09 L189.29,267.10 L190.14,267.10 L191.00,267.12 L191.86,267.14 L192.71,267.17 L193.57,267.22 L194.43,267.28 L195.29,267.36 L196.14,267.47 L197.00,267.60 L197.86,267.76 L198.71,267.96 L199.57,268.18 L200.43,268.45 L201.29,268.76 L202.14,269.10 L203.00,269.48 L203.86,269.88 L204.71,270.31 L205.57,270.76 L206.43,271.22 L207.29,271.70 L208.14,272.18 L209.00,272.67 L209.86,273.15 L210.71,273.63 L211.57,274.10 L212.43,274.56 L213.29,275.00 L214.14,275.42 L215.00,275.82 L215.86,276.18 L216.71,276.51 L217.57,276.80 L218.43,277.05 L219.29,277.26 L220.14,277.44 L221.00,277.58 L221.86,277.69 L222.71,277.77 L223.57,277.83 L224.43,277.87 L225.29,277.89 L226.14,277.90 L227.00,277.89 L227.86,277.87 L228.71,277.85 L229.57,277.83 L230.43,277.80 L231.29,277.78 L232.14,277.77 L233.00,277.76 L233.86,277.76 L234.71,277.79 L235.57,277.82 L236.43,277.88 L237.29,277.95 L238.14,278.04 L239.00,278.15 L239.86,278.26 L240.71,278.39 L241.57,278.53 L242.43,278.69 L243.29,278.85 L244.14,279.02 L245.00,279.20 L245.86,279.39 L246.71,279.58 L247.57,279.78 L248.43,279.99 L249.29,280.19 L250.14,280.40 L251.00,280.62 L251.86,280.83" stroke="#5aa860" stroke-width="1" fill="none"/><path d="M46.14,242.46 L47.00,242.90 L47.86,243.33 L48.71,243.77 L49.57,244.19 L50.43,244.61 L51.29,245.03 L52.14,245.44 L53.00,245.83 L53.86,246.22 L54.71,246.60 L55.57,246.96 L56.43,247.30 L57.29,247.63 L58.14,247.95 L59.00,248.24 L59.86,248.51 L60.71,248.77 L61.57,248.99 L62.43,249.20 L63.29,249.38 L64.14,249.53 L65.00,249.66 L65.86,249.77 L66.71,249.86 L67.57,249.94 L68.43,250.01 L69.29,250.08 L70.14,250.14 L71.00,250.20 L71.86,250.27 L72.71,250.35 L73.57,250.44 L74.43,250.54 L75.29,250.66 L76.14,250.81 L77.00,250.98 L77.86,251.18 L78.71,251.41 L79.57,251.68 L80.43,251.99 L81.29,252.35 L82.14,252.74 L83.00,253.17 L83.86,253.62 L84.71,254.10 L85.57,254.61 L86.43,255.12 L87.29,255.65 L88.14,256.19 L89.00,256.73 L89.86,257.27 L90.71,257.80 L91.57,258.32 L92.43,258.83 L93.29,259.31 L94.14,259.77 L95.00,260.20 L95.86,260.60 L96.71,260.95 L97.57,261.27 L98.43,261.54 L99.29,261.76 L100.14,261.93 L101.00,262.07 L101.86,262.15 L102.71,262.20 L103.57,262.20 L104.43,262.16 L105.29,262.09 L106.14,261.97 L107.00,261.82 L107.86,261.63 L108.71,261.40 L109.57,261.14 L110.43,260.84 L111.29,260.52 L112.14,260.16 L113.00,259.77 L113.86,259.35 L114.71,258.90 L115.57,258.42 L116.43,257.92 L117.29,257.39 L118.14,256.84 L119.00,256.25 L119.86,255.65 L120.71,255.02 L121.57,254.37 L122.43,253.69 L123.29,252.99 L124.14,252.27 L125.00,251.53 L125.86,250.77 L126.71,249.99 L127.57,249.20 L128.43,248.38 L129.29,247.54 L130.14,246.69 L131.00,245.82 L131.86,244.94 L132.71,244.04 L133.57,243.13 L134.43,242.21 L135.29,241.29 L136.14,240.38 L137.00,239.47 L137.86,238.57 L138.71,237.68 L139.57,236.81 L140.43,235.97 L141.29,235.16 L142.14,234.37 L143.00,233.63 L143.86,232.92 L144.71,232.26 L145.57,231.65 L146.43,231.09 L147.29,230.59 L148.14,230.15 L149.00,229.78 L149.86,229.48 L150.71,229.24 L151.57,229.06 L152.43,228.94 L153.29,228.86 L154.14,228.83 L155.00,228.84 L155.86,228.88 L156.71,228.95 L157.57,229.05 L158.43,229.15 L159.29,229.28 L160.14,229.40 L161.00,229.53 L161.86,229.65 L162.71,229.77 L163.57,229.86 L164.43,229.94 L165.29,229.99 L166.14,230.01 L167.00,230.00 L167.86,229.95 L168.71,229.87 L169.57,229.76 L170.43,229.63 L171.29,229.47 L172.14,229.30 L173.00,229.12 L173.86,228.92 L174.71,228.71 L175.57,228.50 L176.43,228.28 L177.29,228.07 L178.14,227.86 L179.00,227.65 L179.86,227.46 L180.71,227.28 L181.57,227.11 L182.43,226.97 L183.29,226.84 L184.14,226.74 L185.00,226.67 L185.86,226.61 L186.71,226.57 L187.57,226.56 L188.43,226.55 L189.29,226.56 L190.14,226.59 L191.00,226.62 L191.86,226.66 L192.71,226.70 L193.57,226.75 L194.43,226.80 L195.29,226.85 L196.14,226.89 L197.00,226.94 L197.86,226.97 L198.71,227.00 L199.57,227.02 L200.43,227.02 L201.29,227.01 L202.14,226.99 L203.00,226.96 L203.86,226.92 L204.71,226.87 L205.57,226.81 L206.43,226.75 L207.29,226.68 L208.14,226.62 L209.00,226.55 L209.86,226.48 L210.71,226.42 L211.57,226.36 L212.43,226.31 L213.29,226.26 L214.14,226.22 L215.00,226.20 L215.86,226.18 L216.71,226.18 L217.57,226.19 L218.43,226.22 L219.29,226.27 L220.14,226.32 L221.00,226.39 L221.86,226.46 L222.71,226.53 L223.57,226.61 L224.43,226.68 L225.29,226.75 L226.14,226.82 L227.00,226.87 L227.86,226.92 L228.71,226.95 L229.57,226.96 L230.43,226.96 L231.29,226.93 L232.14,226.89 L233.00,226.81 L233.86,226.71 L234.71,226.57 L235.57,226.40 L236.43,226.20 L237.29,225.97 L238.14,225.71 L239.00,225.42 L239.86,225.10 L240.71,224.77 L241.57,224.41 L242.43,224.03 L243.29,223.63 L244.14,223.21 L245.00,222.78 L245.86,222.34 L246.71,221.88 L247.57,221.41 L248.43,220.94 L249.29,220.46 L250.14,219.97 L251.00,219.48 L251.86,218.99" stroke="#c080e8" stroke-width="1" fill="none"/><path d="M46.14,240.63 L47.00,241.36 L47.86,242.10 L48.71,242.85 L49.57,243.60 L50.43,244.35 L51.29,245.11 L52.14,245.88 L53.00,246.66 L53.86,247.46 L54.71,248.27 L55.57,249.09 L56.43,249.93 L57.29,250.78 L58.14,251.66 L59.00,252.56 L59.86,253.48 L60.71,254.43 L61.57,255.40 L62.43,256.40 L63.29,257.43 L64.14,258.48 L65.00,259.57 L65.86,260.67 L66.71,261.78 L67.57,262.89 L68.43,264.01 L69.29,265.12 L70.14,266.22 L71.00,267.30 L71.86,268.35 L72.71,269.37 L73.57,270.36 L74.43,271.30 L75.29,272.19 L76.14,273.03 L77.00,273.80 L77.86,274.50 L78.71,275.13 L79.57,275.68 L80.43,276.15 L81.29,276.52 L82.14,276.80 L83.00,276.99 L83.86,277.10 L84.71,277.13 L85.57,277.08 L86.43,276.95 L87.29,276.75 L88.14,276.48 L89.00,276.14 L89.86,275.73 L90.71,275.27 L91.57,274.74 L92.43,274.16 L93.29,273.52 L94.14,272.83 L95.00,272.10 L95.86,271.32 L96.71,270.49 L97.57,269.63 L98.43,268.73 L99.29,267.79 L100.14,266.83 L101.00,265.85 L101.86,264.84 L102.71,263.82 L103.57,262.78 L104.43,261.74 L105.29,260.70 L106.14,259.65 L107.00,258.61 L107.86,257.58 L108.71,256.56 L109.57,255.56 L110.43,254.59 L111.29,253.63 L112.14,252.71 L113.00,251.82 L113.86,250.97 L114.71,250.16 L115.57,249.40 L116.43,248.69 L117.29,248.02 L118.14,247.40 L119.00,246.82 L119.86,246.29 L120.71,245.80 L121.57,245.36 L122.43,244.96 L123.29,244.60 L124.14,244.29 L125.00,244.02 L125.86,243.80 L126.71,243.62 L127.57,243.48 L128.43,243.38 L129.29,243.32 L130.14,243.31 L131.00,243.34 L131.86,243.41 L132.71,243.51 L133.57,243.66 L134.43,243.84 L135.29,244.05 L136.14,244.29 L137.00,244.55 L137.86,244.84 L138.71,245.15 L139.57,245.47 L140.43,245.80 L141.29,246.14 L142.14,246.49 L143.00,246.84 L143.86,247.19 L144.71,247.54 L145.57,247.88 L146.43,248.21 L147.29,248.53 L148.14,248.84 L149.00,249.12 L149.86,249.38 L150.71,249.63 L151.57,249.85 L152.43,250.06 L153.29,250.26 L154.14,250.45 L155.00,250.62 L155.86,250.79 L156.71,250.96 L157.57,251.12 L158.43,251.28 L159.29,251.45 L160.14,251.62 L161.00,251.79 L161.86,251.97 L162.71,252.16 L163.57,252.37 L164.43,252.59 L165.29,252.82 L166.14,253.08 L167.00,253.35 L167.86,253.65 L168.71,253.97 L169.57,254.31 L170.43,254.68 L171.29,255.07 L172.14,255.48 L173.00,255.92 L173.86,256.38 L174.71,256.87 L175.57,257.39 L176.43,257.93 L177.29,258.50 L178.14,259.09 L179.00,259.72 L179.86,260.37 L180.71,261.06 L181.57,261.77 L182.43,262.51 L183.29,263.29 L184.14,264.09 L185.00,264.92 L185.86,265.77 L186.71,266.63 L187.57,267.49 L188.43,268.35 L189.29,269.20 L190.14,270.04 L191.00,270.85 L191.86,271.64 L192.71,272.38 L193.57,273.09 L194.43,273.75 L195.29,274.35 L196.14,274.89 L197.00,275.36 L197.86,275.75 L198.71,276.06 L199.57,276.28 L200.43,276.41 L201.29,276.43 L202.14,276.37 L203.00,276.22 L203.86,276.00 L204.71,275.72 L205.57,275.39 L206.43,275.03 L207.29,274.63 L208.14,274.22 L209.00,273.80 L209.86,273.39 L210.71,272.99 L211.57,272.62 L212.43,272.29 L213.29,272.00 L214.14,271.77 L215.00,271.61 L215.86,271.53 L216.71,271.54 L217.57,271.65 L218.43,271.87 L219.29,272.20 L220.14,272.61 L221.00,273.11 L221.86,273.68 L222.71,274.32 L223.57,275.01 L224.43,275.75 L225.29,276.52 L226.14,277.32 L227.00,278.13 L227.86,278.95 L228.71,279.77 L229.57,280.57 L230.43,281.36 L231.29,282.11 L232.14,282.82 L233.00,283.49 L233.86,284.09 L234.71,284.62 L235.57,285.07 L236.43,285.45 L237.29,285.76 L238.14,286.00 L239.00,286.18 L239.86,286.30 L240.71,286.36 L241.57,286.38 L242.43,286.34 L243.29,286.26 L244.14,286.14 L245.00,285.99 L245.86,285.80 L246.71,285.59 L247.57,285.35 L248.43,285.10 L249.29,284.82 L250.14,284.54 L251.00,284.24 L251.86,283.95" stroke="#5a5ad4" stroke-width="1" fill="none"/><circle cx="46.14" cy="241.60" r="2.6" fill="#f06414"/><circle cx="63.29" cy="235.44" r="2.6" fill="#f06414"/><circle cx="80.43" cy="229.28" r="2.6" fill="#f06414"/><circle cx="97.57" cy="241.60" r="2.6" fill="#f06414"/><circle cx="114.71" cy="241.60" r="2.6" fill="#f06414"/><circle cx="131.86" cy="217.90" r="2.6" fill="#f06414"/><circle cx="149.00" cy="206.05" r="2.6" fill="#f06414"/><circle cx="166.14" cy="217.90" r="2.6" fill="#f06414"/><circle cx="183.29" cy="217.90" r="2.6" fill="#f06414"/><circle cx="200.43" cy="229.28" r="2.6" fill="#f06414"/><circle cx="217.57" cy="241.60" r="2.6" fill="#f06414"/><circle cx="234.71" cy="258.66" r="2.6" fill="#f06414"/><circle cx="251.86" cy="247.29" r="2.6" fill="#f06414"/><circle cx="46.14" cy="241.60" r="2.6" fill="#0a7e14"/><circle cx="63.29" cy="252.50" r="2.6" fill="#0a7e14"/><circle cx="80.43" cy="264.35" r="2.6" fill="#0a7e14"/><circle cx="97.57" cy="287.10" r="2.6" fill="#0a7e14"/><circle cx="114.71" cy="264.35" r="2.6" fill="#0a7e14"/><circle cx="131.86" cy="275.25" r="2.6" fill="#0a7e14"/><circle cx="149.00" cy="258.66" r="2.6" fill="#0a7e14"/><circle cx="166.14" cy="263.88" r="2.6" fill="#0a7e14"/><circle cx="183.29" cy="269.57" r="2.6" fill="#0a7e14"/><circle cx="200.43" cy="263.88" r="2.6" fill="#0a7e14"/><circle cx="217.57" cy="281.42" r="2.6" fill="#0a7e14"/><circle cx="234.71" cy="275.25" r="2.6" fill="#0a7e14"/><circle cx="251.86" cy="281.42" r="2.6" fill="#0a7e14"/><circle cx="46.14" cy="241.60" r="2.6" fill="#9414e4"/><circle cx="63.29" cy="252.50" r="2.6" fill="#9414e4"/><circle cx="80.43" cy="246.81" r="2.6" fill="#9414e4"/><circle cx="97.57" cy="264.83" r="2.6" fill="#9414e4"/><circle cx="114.71" cy="258.66" r="2.6" fill="#9414e4"/><circle cx="131.86" cy="247.29" r="2.6" fill="#9414e4"/><circle cx="149.00" cy="223.59" r="2.6" fill="#9414e4"/><circle cx="166.14" cy="235.44" r="2.6" fill="#9414e4"/><circle cx="183.29" cy="223.59" r="2.6" fill="#9414e4"/><circle cx="200.43" cy="229.28" r="2.6" fill="#9414e4"/><circle cx="217.57" cy="223.59" r="2.6" fill="#9414e4"/><circle cx="234.71" cy="229.28" r="2.6" fill="#9414e4"/><circle cx="251.86" cy="217.90" r="2.6" fill="#9414e4"/><circle cx="46.14" cy="241.60" r="2.6" fill="#0808d4"/><circle cx="63.29" cy="252.50" r="2.6" fill="#0808d4"/><circle cx="80.43" cy="281.89" r="2.6" fill="#0808d4"/><circle cx="97.57" cy="270.51" r="2.6" fill="#0808d4"/><circle cx="114.71" cy="247.29" r="2.6" fill="#0808d4"/><circle cx="131.86" cy="241.60" r="2.6" fill="#0808d4"/><circle cx="149.00" cy="252.50" r="2.6" fill="#0808d4"/><circle cx="166.14" cy="252.03" r="2.6" fill="#0808d4"/><circle cx="183.29" cy="258.66" r="2.6" fill="#0808d4"/><circle cx="200.43" cy="287.58" r="2.6" fill="#0808d4"/><circle cx="217.57" cy="258.66" r="2.6" fill="#0808d4"/><circle cx="234.71" cy="293.27" r="2.6" fill="#0808d4"/><circle cx="251.86" cy="281.42" r="2.6" fill="#0808d4"/><rect x="29.00" y="170.50" width="240.00" height="165.90" fill="none" stroke="#8080a0" stroke-width="1"/><path d="M63.29 336.40v-2.2M63.29 170.50v2.2M97.57 336.40v-2.2M97.57 170.50v2.2M131.86 336.40v-2.2M131.86 170.50v2.2M166.14 336.40v-2.2M166.14 170.50v2.2M200.43 336.40v-2.2M200.43 170.50v2.2M234.71 336.40v-2.2M234.71 170.50v2.2M29.00 312.70h2.2M269.00 312.70h-2.2M29.00 289.00h2.2M269.00 289.00h-2.2M29.00 265.30h2.2M269.00 265.30h-2.2M29.00 241.60h2.2M269.00 241.60h-2.2M29.00 217.90h2.2M269.00 217.90h-2.2M29.00 194.20h2.2M269.00 194.20h-2.2" stroke="#8080a0" stroke-width="0.6" fill="none"/><text x="26.00" y="315.30" font-size="6.1" font-weight="bold" text-anchor="end" fill="#1a1a1a" stroke="#1a1a1a" stroke-width="0.18">98.5</text><text x="26.00" y="291.60" font-size="6.1" font-weight="bold" text-anchor="end" fill="#1a1a1a" stroke="#1a1a1a" stroke-width="0.18">99.0</text><text x="26.00" y="267.90" font-size="6.1" font-weight="bold" text-anchor="end" fill="#1a1a1a" stroke="#1a1a1a" stroke-width="0.18">99.5</text><text x="26.00" y="244.20" font-size="6.1" font-weight="bold" text-anchor="end" fill="#1a1a1a" stroke="#1a1a1a" stroke-width="0.18">100.0</text><text x="26.00" y="220.50" font-size="6.1" font-weight="bold" text-anchor="end" fill="#1a1a1a" stroke="#1a1a1a" stroke-width="0.18">100.5</text><text x="26.00" y="196.80" font-size="6.1" font-weight="bold" text-anchor="end" fill="#1a1a1a" stroke="#1a1a1a" stroke-width="0.18">101.0</text><text x="29.00" y="346.40" font-size="6.1" font-weight="bold" text-anchor="middle" fill="#1a1a1a" stroke="#1a1a1a" stroke-width="0.18">0</text><text x="63.29" y="346.40" font-size="6.1" font-weight="bold" text-anchor="middle" fill="#1a1a1a" stroke="#1a1a1a" stroke-width="0.18">2</text><text x="97.57" y="346.40" font-size="6.1" font-weight="bold" text-anchor="middle" fill="#1a1a1a" stroke="#1a1a1a" stroke-width="0.18">4</text><text x="131.86" y="346.40" font-size="6.1" font-weight="bold" text-anchor="middle" fill="#1a1a1a" stroke="#1a1a1a" stroke-width="0.18">6</text><text x="166.14" y="346.40" font-size="6.1" font-weight="bold" text-anchor="middle" fill="#1a1a1a" stroke="#1a1a1a" stroke-width="0.18">8</text><text x="200.43" y="346.40" font-size="6.1" font-weight="bold" text-anchor="middle" fill="#1a1a1a" stroke="#1a1a1a" stroke-width="0.18">10</text><text x="234.71" y="346.40" font-size="6.1" font-weight="bold" text-anchor="middle" fill="#1a1a1a" stroke="#1a1a1a" stroke-width="0.18">12</text><text x="269.00" y="346.40" font-size="6.1" font-weight="bold" text-anchor="middle" fill="#1a1a1a" stroke="#1a1a1a" stroke-width="0.18">14</text><text x="149.00" y="356.40" font-size="7.3" font-weight="bold" text-anchor="middle" fill="#1a1a1a">Time (weeks)</text><text x="263.80" y="332.90" font-size="11" font-weight="bold" text-anchor="end" fill="#111">C</text><path d="M33.50 308.25h15.5" stroke="#eca064" stroke-width="1"/><circle cx="41.30" cy="308.25" r="2.35" fill="#f06414"/><text x="51.50" y="310.25" font-size="5.7" fill="#2a2a2a">80%</text><path d="M33.50 314.60h15.5" stroke="#5aa860" stroke-width="1"/><circle cx="41.30" cy="314.60" r="2.35" fill="#0a7e14"/><text x="51.50" y="316.60" font-size="5.7" fill="#2a2a2a">100%</text><path d="M33.50 320.95h15.5" stroke="#c080e8" stroke-width="1"/><circle cx="41.30" cy="320.95" r="2.35" fill="#9414e4"/><text x="51.50" y="322.95" font-size="5.7" fill="#2a2a2a">150%</text><path d="M33.50 327.30h15.5" stroke="#5a5ad4" stroke-width="1"/><circle cx="41.30" cy="327.30" r="2.35" fill="#0808d4"/><text x="51.50" y="329.30" font-size="5.7" fill="#2a2a2a">200%</text></g>
<g><path d="M316.11 241.51V265.79M333.23 264.61V286.82M350.34 302.90V325.76M367.46 302.03V315.61M384.57 303.46V314.18M401.69 276.32V297.18M418.80 259.18V281.22M435.91 273.10V289.36M453.03 243.59V263.71M470.14 265.07V286.36M487.26 266.65V284.78M504.37 265.03V286.40M521.49 297.86V308.74M316.11 244.18V263.12M333.23 252.16V266.18M350.34 269.68V281.76M367.46 237.21V259.06M384.57 242.65V253.62M401.69 244.20V263.10M418.80 253.43V264.90M435.91 224.06V239.11M453.03 201.64V217.40M470.14 219.65V232.48M487.26 189.97V207.00M504.37 189.88V207.08M521.49 202.26V216.77M316.11 246.37V260.93M333.23 241.85V254.42M350.34 280.26V293.24M367.46 240.65V255.62M384.57 246.02V261.28M401.69 230.53V243.67M418.80 220.61V242.56M435.91 215.65V236.48M453.03 214.59V226.51M470.14 229.52V244.68M487.26 197.27V210.73M504.37 223.50V239.67M521.49 213.55V227.55M316.11 242.73V264.57M333.23 270.24V292.23M350.34 290.12V305.44M367.46 260.89V279.51M384.57 261.22V279.18M401.69 260.26V280.14M418.80 286.59V297.94M435.91 265.82V285.61M453.03 231.47V253.76M470.14 261.17V279.23M487.26 274.16V288.31M504.37 277.30V296.20M521.49 249.47V268.86" stroke="#c4c4c4" stroke-width="0.9" fill="none"/><path d="M315.11 241.51h2M315.11 265.79h2M332.23 264.61h2M332.23 286.82h2M349.34 302.90h2M349.34 325.76h2M366.46 302.03h2M366.46 315.61h2M383.57 303.46h2M383.57 314.18h2M400.69 276.32h2M400.69 297.18h2M417.80 259.18h2M417.80 281.22h2M434.91 273.10h2M434.91 289.36h2M452.03 243.59h2M452.03 263.71h2M469.14 265.07h2M469.14 286.36h2M486.26 266.65h2M486.26 284.78h2M503.37 265.03h2M503.37 286.40h2M520.49 297.86h2M520.49 308.74h2M315.11 244.18h2M315.11 263.12h2M332.23 252.16h2M332.23 266.18h2M349.34 269.68h2M349.34 281.76h2M366.46 237.21h2M366.46 259.06h2M383.57 242.65h2M383.57 253.62h2M400.69 244.20h2M400.69 263.10h2M417.80 253.43h2M417.80 264.90h2M434.91 224.06h2M434.91 239.11h2M452.03 201.64h2M452.03 217.40h2M469.14 219.65h2M469.14 232.48h2M486.26 189.97h2M486.26 207.00h2M503.37 189.88h2M503.37 207.08h2M520.49 202.26h2M520.49 216.77h2M315.11 246.37h2M315.11 260.93h2M332.23 241.85h2M332.23 254.42h2M349.34 280.26h2M349.34 293.24h2M366.46 240.65h2M366.46 255.62h2M383.57 246.02h2M383.57 261.28h2M400.69 230.53h2M400.69 243.67h2M417.80 220.61h2M417.80 242.56h2M434.91 215.65h2M434.91 236.48h2M452.03 214.59h2M452.03 226.51h2M469.14 229.52h2M469.14 244.68h2M486.26 197.27h2M486.26 210.73h2M503.37 223.50h2M503.37 239.67h2M520.49 213.55h2M520.49 227.55h2M315.11 242.73h2M315.11 264.57h2M332.23 270.24h2M332.23 292.23h2M349.34 290.12h2M349.34 305.44h2M366.46 260.89h2M366.46 279.51h2M383.57 261.22h2M383.57 279.18h2M400.69 260.26h2M400.69 280.14h2M417.80 286.59h2M417.80 297.94h2M434.91 265.82h2M434.91 285.61h2M452.03 231.47h2M452.03 253.76h2M469.14 261.17h2M469.14 279.23h2M486.26 274.16h2M486.26 288.31h2M503.37 277.30h2M503.37 296.20h2M520.49 249.47h2M520.49 268.86h2" stroke="#8c8c8c" stroke-width="0.6" fill="none"/><path d="M316.11,252.86 L316.97,254.15 L317.83,255.44 L318.68,256.73 L319.54,258.02 L320.39,259.32 L321.25,260.62 L322.10,261.93 L322.96,263.25 L323.82,264.58 L324.67,265.92 L325.53,267.27 L326.38,268.64 L327.24,270.02 L328.09,271.42 L328.95,272.83 L329.81,274.26 L330.66,275.71 L331.52,277.19 L332.37,278.68 L333.23,280.20 L334.08,281.74 L334.94,283.30 L335.80,284.88 L336.65,286.46 L337.51,288.04 L338.36,289.62 L339.22,291.18 L340.07,292.74 L340.93,294.27 L341.79,295.77 L342.64,297.24 L343.50,298.67 L344.35,300.05 L345.21,301.39 L346.06,302.67 L346.92,303.88 L347.78,305.03 L348.63,306.10 L349.49,307.10 L350.34,308.01 L351.20,308.83 L352.05,309.56 L352.91,310.21 L353.77,310.78 L354.62,311.28 L355.48,311.71 L356.33,312.07 L357.19,312.36 L358.04,312.60 L358.90,312.79 L359.76,312.92 L360.61,313.01 L361.47,313.06 L362.32,313.07 L363.18,313.05 L364.03,312.99 L364.89,312.91 L365.75,312.81 L366.60,312.70 L367.46,312.56 L368.31,312.42 L369.17,312.27 L370.02,312.11 L370.88,311.93 L371.74,311.74 L372.59,311.52 L373.45,311.29 L374.30,311.04 L375.16,310.76 L376.01,310.46 L376.87,310.14 L377.73,309.78 L378.58,309.40 L379.44,308.98 L380.29,308.53 L381.15,308.04 L382.00,307.52 L382.86,306.96 L383.72,306.35 L384.57,305.71 L385.43,305.02 L386.28,304.29 L387.14,303.52 L387.99,302.72 L388.85,301.89 L389.71,301.02 L390.56,300.14 L391.42,299.23 L392.27,298.30 L393.13,297.35 L393.98,296.39 L394.84,295.42 L395.70,294.45 L396.55,293.47 L397.41,292.49 L398.26,291.51 L399.12,290.54 L399.97,289.58 L400.83,288.63 L401.69,287.69 L402.54,286.77 L403.40,285.87 L404.25,285.00 L405.11,284.14 L405.96,283.31 L406.82,282.51 L407.68,281.73 L408.53,280.98 L409.39,280.27 L410.24,279.58 L411.10,278.94 L411.95,278.32 L412.81,277.75 L413.67,277.21 L414.52,276.72 L415.38,276.27 L416.23,275.86 L417.09,275.49 L417.94,275.18 L418.80,274.91 L419.66,274.70 L420.51,274.53 L421.37,274.39 L422.22,274.29 L423.08,274.22 L423.93,274.17 L424.79,274.14 L425.65,274.12 L426.50,274.10 L427.36,274.08 L428.21,274.06 L429.07,274.02 L429.92,273.97 L430.78,273.89 L431.64,273.78 L432.49,273.63 L433.35,273.45 L434.20,273.22 L435.06,272.93 L435.91,272.59 L436.77,272.19 L437.63,271.73 L438.48,271.22 L439.34,270.67 L440.19,270.09 L441.05,269.48 L441.90,268.86 L442.76,268.22 L443.62,267.59 L444.47,266.96 L445.33,266.34 L446.18,265.75 L447.04,265.19 L447.89,264.66 L448.75,264.18 L449.61,263.75 L450.46,263.38 L451.32,263.08 L452.17,262.85 L453.03,262.71 L453.88,262.66 L454.74,262.69 L455.60,262.80 L456.45,262.99 L457.31,263.24 L458.16,263.55 L459.02,263.91 L459.87,264.32 L460.73,264.77 L461.59,265.25 L462.44,265.77 L463.30,266.30 L464.15,266.85 L465.01,267.40 L465.86,267.96 L466.72,268.52 L467.58,269.06 L468.43,269.59 L469.29,270.09 L470.14,270.57 L471.00,271.01 L471.85,271.41 L472.71,271.78 L473.57,272.12 L474.42,272.43 L475.28,272.72 L476.13,272.98 L476.99,273.21 L477.84,273.42 L478.70,273.61 L479.56,273.78 L480.41,273.93 L481.27,274.06 L482.12,274.18 L482.98,274.29 L483.83,274.39 L484.69,274.47 L485.55,274.55 L486.40,274.63 L487.26,274.70 L488.11,274.76 L488.97,274.83 L489.82,274.90 L490.68,274.97 L491.54,275.06 L492.39,275.16 L493.25,275.28 L494.10,275.41 L494.96,275.57 L495.81,275.76 L496.67,275.98 L497.53,276.23 L498.38,276.51 L499.24,276.84 L500.09,277.20 L500.95,277.62 L501.80,278.08 L502.66,278.59 L503.52,279.16 L504.37,279.79 L505.23,280.49 L506.08,281.24 L506.94,282.04 L507.79,282.90 L508.65,283.81 L509.51,284.77 L510.36,285.77 L511.22,286.81 L512.07,287.88 L512.93,288.99 L513.78,290.14 L514.64,291.31 L515.50,292.50 L516.35,293.72 L517.21,294.96 L518.06,296.21 L518.92,297.47 L519.77,298.75 L520.63,300.02 L521.49,301.31" stroke="#eca064" stroke-width="1" fill="none"/><path d="M316.11,253.38 L316.97,253.82 L317.83,254.25 L318.68,254.68 L319.54,255.12 L320.39,255.55 L321.25,255.99 L322.10,256.43 L322.96,256.88 L323.82,257.32 L324.67,257.78 L325.53,258.23 L326.38,258.69 L327.24,259.16 L328.09,259.63 L328.95,260.10 L329.81,260.59 L330.66,261.07 L331.52,261.57 L332.37,262.07 L333.23,262.59 L334.08,263.11 L334.94,263.63 L335.80,264.15 L336.65,264.66 L337.51,265.17 L338.36,265.66 L339.22,266.12 L340.07,266.56 L340.93,266.97 L341.79,267.34 L342.64,267.67 L343.50,267.96 L344.35,268.20 L345.21,268.38 L346.06,268.49 L346.92,268.55 L347.78,268.53 L348.63,268.44 L349.49,268.27 L350.34,268.01 L351.20,267.66 L352.05,267.23 L352.91,266.73 L353.77,266.15 L354.62,265.52 L355.48,264.83 L356.33,264.09 L357.19,263.31 L358.04,262.50 L358.90,261.66 L359.76,260.81 L360.61,259.94 L361.47,259.07 L362.32,258.20 L363.18,257.34 L364.03,256.49 L364.89,255.67 L365.75,254.88 L366.60,254.13 L367.46,253.42 L368.31,252.77 L369.17,252.16 L370.02,251.61 L370.88,251.10 L371.74,250.65 L372.59,250.23 L373.45,249.87 L374.30,249.54 L375.16,249.26 L376.01,249.03 L376.87,248.83 L377.73,248.67 L378.58,248.55 L379.44,248.47 L380.29,248.43 L381.15,248.42 L382.00,248.44 L382.86,248.50 L383.72,248.59 L384.57,248.70 L385.43,248.85 L386.28,249.03 L387.14,249.23 L387.99,249.45 L388.85,249.69 L389.71,249.95 L390.56,250.23 L391.42,250.53 L392.27,250.84 L393.13,251.16 L393.98,251.48 L394.84,251.82 L395.70,252.16 L396.55,252.50 L397.41,252.84 L398.26,253.18 L399.12,253.52 L399.97,253.85 L400.83,254.18 L401.69,254.49 L402.54,254.80 L403.40,255.09 L404.25,255.36 L405.11,255.61 L405.96,255.83 L406.82,256.02 L407.68,256.19 L408.53,256.32 L409.39,256.41 L410.24,256.46 L411.10,256.46 L411.95,256.42 L412.81,256.32 L413.67,256.17 L414.52,255.96 L415.38,255.68 L416.23,255.35 L417.09,254.94 L417.94,254.46 L418.80,253.91 L419.66,253.28 L420.51,252.57 L421.37,251.80 L422.22,250.96 L423.08,250.06 L423.93,249.11 L424.79,248.11 L425.65,247.07 L426.50,245.98 L427.36,244.86 L428.21,243.71 L429.07,242.53 L429.92,241.34 L430.78,240.12 L431.64,238.90 L432.49,237.67 L433.35,236.44 L434.20,235.22 L435.06,234.00 L435.91,232.80 L436.77,231.62 L437.63,230.45 L438.48,229.31 L439.34,228.20 L440.19,227.12 L441.05,226.07 L441.90,225.06 L442.76,224.09 L443.62,223.16 L444.47,222.27 L445.33,221.44 L446.18,220.65 L447.04,219.92 L447.89,219.24 L448.75,218.63 L449.61,218.08 L450.46,217.59 L451.32,217.17 L452.17,216.83 L453.03,216.56 L453.88,216.36 L454.74,216.24 L455.60,216.17 L456.45,216.16 L457.31,216.20 L458.16,216.27 L459.02,216.37 L459.87,216.49 L460.73,216.63 L461.59,216.77 L462.44,216.91 L463.30,217.04 L464.15,217.15 L465.01,217.23 L465.86,217.28 L466.72,217.28 L467.58,217.23 L468.43,217.13 L469.29,216.96 L470.14,216.71 L471.00,216.38 L471.85,215.97 L472.71,215.50 L473.57,214.96 L474.42,214.36 L475.28,213.72 L476.13,213.03 L476.99,212.30 L477.84,211.54 L478.70,210.76 L479.56,209.97 L480.41,209.16 L481.27,208.34 L482.12,207.53 L482.98,206.73 L483.83,205.94 L484.69,205.18 L485.55,204.44 L486.40,203.74 L487.26,203.08 L488.11,202.47 L488.97,201.91 L489.82,201.39 L490.68,200.92 L491.54,200.50 L492.39,200.12 L493.25,199.79 L494.10,199.50 L494.96,199.25 L495.81,199.05 L496.67,198.89 L497.53,198.77 L498.38,198.70 L499.24,198.66 L500.09,198.66 L500.95,198.71 L501.80,198.79 L502.66,198.91 L503.52,199.06 L504.37,199.26 L505.23,199.49 L506.08,199.75 L506.94,200.05 L507.79,200.38 L508.65,200.74 L509.51,201.12 L510.36,201.53 L511.22,201.97 L512.07,202.42 L512.93,202.90 L513.78,203.39 L514.64,203.90 L515.50,204.43 L516.35,204.96 L517.21,205.51 L518.06,206.07 L518.92,206.63 L519.77,207.20 L520.63,207.78 L521.49,208.35" stroke="#5aa860" stroke-width="1" fill="none"/><path d="M316.11,251.35 L316.97,251.42 L317.83,251.49 L318.68,251.57 L319.54,251.66 L320.39,251.76 L321.25,251.88 L322.10,252.02 L322.96,252.19 L323.82,252.39 L324.67,252.61 L325.53,252.88 L326.38,253.18 L327.24,253.53 L328.09,253.92 L328.95,254.37 L329.81,254.86 L330.66,255.42 L331.52,256.03 L332.37,256.71 L333.23,257.46 L334.08,258.28 L334.94,259.16 L335.80,260.09 L336.65,261.06 L337.51,262.05 L338.36,263.06 L339.22,264.08 L340.07,265.09 L340.93,266.09 L341.79,267.06 L342.64,267.99 L343.50,268.87 L344.35,269.70 L345.21,270.45 L346.06,271.12 L346.92,271.69 L347.78,272.16 L348.63,272.52 L349.49,272.75 L350.34,272.85 L351.20,272.80 L352.05,272.61 L352.91,272.30 L353.77,271.87 L354.62,271.33 L355.48,270.70 L356.33,269.99 L357.19,269.20 L358.04,268.36 L358.90,267.46 L359.76,266.52 L360.61,265.55 L361.47,264.56 L362.32,263.56 L363.18,262.57 L364.03,261.59 L364.89,260.63 L365.75,259.70 L366.60,258.83 L367.46,258.00 L368.31,257.25 L369.17,256.55 L370.02,255.91 L370.88,255.32 L371.74,254.79 L372.59,254.29 L373.45,253.84 L374.30,253.41 L375.16,253.02 L376.01,252.65 L376.87,252.30 L377.73,251.97 L378.58,251.65 L379.44,251.33 L380.29,251.02 L381.15,250.70 L382.00,250.37 L382.86,250.03 L383.72,249.67 L384.57,249.29 L385.43,248.88 L386.28,248.45 L387.14,248.00 L387.99,247.52 L388.85,247.03 L389.71,246.52 L390.56,246.00 L391.42,245.46 L392.27,244.91 L393.13,244.36 L393.98,243.80 L394.84,243.24 L395.70,242.67 L396.55,242.11 L397.41,241.55 L398.26,240.99 L399.12,240.44 L399.97,239.90 L400.83,239.37 L401.69,238.86 L402.54,238.36 L403.40,237.87 L404.25,237.40 L405.11,236.95 L405.96,236.50 L406.82,236.07 L407.68,235.65 L408.53,235.24 L409.39,234.84 L410.24,234.46 L411.10,234.08 L411.95,233.71 L412.81,233.35 L413.67,232.99 L414.52,232.64 L415.38,232.30 L416.23,231.97 L417.09,231.64 L417.94,231.31 L418.80,230.99 L419.66,230.67 L420.51,230.35 L421.37,230.04 L422.22,229.73 L423.08,229.43 L423.93,229.13 L424.79,228.83 L425.65,228.55 L426.50,228.26 L427.36,227.98 L428.21,227.71 L429.07,227.45 L429.92,227.19 L430.78,226.94 L431.64,226.70 L432.49,226.46 L433.35,226.23 L434.20,226.02 L435.06,225.81 L435.91,225.60 L436.77,225.41 L437.63,225.23 L438.48,225.06 L439.34,224.90 L440.19,224.76 L441.05,224.63 L441.90,224.52 L442.76,224.42 L443.62,224.34 L444.47,224.28 L445.33,224.23 L446.18,224.21 L447.04,224.21 L447.89,224.24 L448.75,224.28 L449.61,224.36 L450.46,224.45 L451.32,224.58 L452.17,224.73 L453.03,224.91 L453.88,225.12 L454.74,225.36 L455.60,225.61 L456.45,225.88 L457.31,226.15 L458.16,226.42 L459.02,226.69 L459.87,226.95 L460.73,227.19 L461.59,227.41 L462.44,227.61 L463.30,227.76 L464.15,227.88 L465.01,227.96 L465.86,227.98 L466.72,227.95 L467.58,227.85 L468.43,227.68 L469.29,227.45 L470.14,227.13 L471.00,226.72 L471.85,226.25 L472.71,225.70 L473.57,225.10 L474.42,224.45 L475.28,223.77 L476.13,223.06 L476.99,222.33 L477.84,221.60 L478.70,220.86 L479.56,220.14 L480.41,219.45 L481.27,218.78 L482.12,218.16 L482.98,217.58 L483.83,217.07 L484.69,216.63 L485.55,216.27 L486.40,216.00 L487.26,215.83 L488.11,215.77 L488.97,215.81 L489.82,215.94 L490.68,216.16 L491.54,216.45 L492.39,216.81 L493.25,217.23 L494.10,217.69 L494.96,218.20 L495.81,218.74 L496.67,219.31 L497.53,219.88 L498.38,220.47 L499.24,221.05 L500.09,221.62 L500.95,222.17 L501.80,222.69 L502.66,223.17 L503.52,223.61 L504.37,223.99 L505.23,224.31 L506.08,224.58 L506.94,224.78 L507.79,224.93 L508.65,225.03 L509.51,225.08 L510.36,225.09 L511.22,225.05 L512.07,224.98 L512.93,224.87 L513.78,224.73 L514.64,224.57 L515.50,224.37 L516.35,224.16 L517.21,223.93 L518.06,223.68 L518.92,223.41 L519.77,223.14 L520.63,222.86 L521.49,222.58" stroke="#c080e8" stroke-width="1" fill="none"/><path d="M316.11,254.95 L316.97,256.42 L317.83,257.89 L318.68,259.36 L319.54,260.82 L320.39,262.28 L321.25,263.72 L322.10,265.15 L322.96,266.57 L323.82,267.97 L324.67,269.35 L325.53,270.71 L326.38,272.05 L327.24,273.37 L328.09,274.66 L328.95,275.92 L329.81,277.15 L330.66,278.35 L331.52,279.51 L332.37,280.64 L333.23,281.73 L334.08,282.78 L334.94,283.79 L335.80,284.74 L336.65,285.65 L337.51,286.51 L338.36,287.32 L339.22,288.06 L340.07,288.75 L340.93,289.37 L341.79,289.93 L342.64,290.42 L343.50,290.84 L344.35,291.18 L345.21,291.45 L346.06,291.63 L346.92,291.74 L347.78,291.76 L348.63,291.69 L349.49,291.53 L350.34,291.27 L351.20,290.92 L352.05,290.48 L352.91,289.96 L353.77,289.37 L354.62,288.71 L355.48,287.99 L356.33,287.21 L357.19,286.39 L358.04,285.54 L358.90,284.65 L359.76,283.74 L360.61,282.81 L361.47,281.88 L362.32,280.95 L363.18,280.02 L364.03,279.11 L364.89,278.21 L365.75,277.35 L366.60,276.52 L367.46,275.74 L368.31,275.00 L369.17,274.32 L370.02,273.68 L370.88,273.09 L371.74,272.54 L372.59,272.04 L373.45,271.59 L374.30,271.17 L375.16,270.80 L376.01,270.46 L376.87,270.16 L377.73,269.90 L378.58,269.68 L379.44,269.49 L380.29,269.33 L381.15,269.20 L382.00,269.10 L382.86,269.04 L383.72,269.00 L384.57,268.98 L385.43,269.00 L386.28,269.03 L387.14,269.10 L387.99,269.19 L388.85,269.31 L389.71,269.45 L390.56,269.63 L391.42,269.84 L392.27,270.07 L393.13,270.34 L393.98,270.64 L394.84,270.96 L395.70,271.33 L396.55,271.72 L397.41,272.15 L398.26,272.61 L399.12,273.11 L399.97,273.65 L400.83,274.22 L401.69,274.83 L402.54,275.47 L403.40,276.14 L404.25,276.84 L405.11,277.56 L405.96,278.29 L406.82,279.02 L407.68,279.75 L408.53,280.47 L409.39,281.18 L410.24,281.86 L411.10,282.52 L411.95,283.14 L412.81,283.72 L413.67,284.25 L414.52,284.72 L415.38,285.13 L416.23,285.48 L417.09,285.75 L417.94,285.94 L418.80,286.04 L419.66,286.05 L420.51,285.96 L421.37,285.79 L422.22,285.54 L423.08,285.20 L423.93,284.78 L424.79,284.28 L425.65,283.72 L426.50,283.08 L427.36,282.37 L428.21,281.61 L429.07,280.78 L429.92,279.90 L430.78,278.96 L431.64,277.97 L432.49,276.93 L433.35,275.85 L434.20,274.72 L435.06,273.56 L435.91,272.36 L436.77,271.13 L437.63,269.88 L438.48,268.61 L439.34,267.34 L440.19,266.06 L441.05,264.80 L441.90,263.55 L442.76,262.33 L443.62,261.14 L444.47,260.00 L445.33,258.91 L446.18,257.87 L447.04,256.91 L447.89,256.02 L448.75,255.22 L449.61,254.51 L450.46,253.90 L451.32,253.40 L452.17,253.02 L453.03,252.76 L453.88,252.64 L454.74,252.65 L455.60,252.77 L456.45,253.01 L457.31,253.36 L458.16,253.80 L459.02,254.33 L459.87,254.94 L460.73,255.63 L461.59,256.38 L462.44,257.20 L463.30,258.07 L464.15,258.98 L465.01,259.93 L465.86,260.91 L466.72,261.91 L467.58,262.93 L468.43,263.95 L469.29,264.98 L470.14,266.00 L471.00,267.00 L471.85,267.99 L472.71,268.96 L473.57,269.91 L474.42,270.85 L475.28,271.76 L476.13,272.65 L476.99,273.53 L477.84,274.38 L478.70,275.20 L479.56,276.01 L480.41,276.78 L481.27,277.54 L482.12,278.26 L482.98,278.96 L483.83,279.62 L484.69,280.26 L485.55,280.87 L486.40,281.44 L487.26,281.99 L488.11,282.49 L488.97,282.97 L489.82,283.40 L490.68,283.80 L491.54,284.15 L492.39,284.46 L493.25,284.72 L494.10,284.94 L494.96,285.10 L495.81,285.21 L496.67,285.27 L497.53,285.27 L498.38,285.21 L499.24,285.10 L500.09,284.91 L500.95,284.67 L501.80,284.35 L502.66,283.97 L503.52,283.51 L504.37,282.99 L505.23,282.38 L506.08,281.71 L506.94,280.96 L507.79,280.16 L508.65,279.29 L509.51,278.36 L510.36,277.39 L511.22,276.36 L512.07,275.29 L512.93,274.18 L513.78,273.02 L514.64,271.84 L515.50,270.62 L516.35,269.38 L517.21,268.12 L518.06,266.83 L518.92,265.53 L519.77,264.22 L520.63,262.91 L521.49,261.59" stroke="#5a5ad4" stroke-width="1" fill="none"/><circle cx="316.11" cy="253.65" r="2.6" fill="#f06414"/><circle cx="333.23" cy="275.72" r="2.6" fill="#f06414"/><circle cx="350.34" cy="314.33" r="2.6" fill="#f06414"/><circle cx="367.46" cy="308.82" r="2.6" fill="#f06414"/><circle cx="384.57" cy="308.82" r="2.6" fill="#f06414"/><circle cx="401.69" cy="286.75" r="2.6" fill="#f06414"/><circle cx="418.80" cy="270.20" r="2.6" fill="#f06414"/><circle cx="435.91" cy="281.23" r="2.6" fill="#f06414"/><circle cx="453.03" cy="253.65" r="2.6" fill="#f06414"/><circle cx="470.14" cy="275.72" r="2.6" fill="#f06414"/><circle cx="487.26" cy="275.72" r="2.6" fill="#f06414"/><circle cx="504.37" cy="275.72" r="2.6" fill="#f06414"/><circle cx="521.49" cy="303.30" r="2.6" fill="#f06414"/><circle cx="316.11" cy="253.65" r="2.6" fill="#0a7e14"/><circle cx="333.23" cy="259.17" r="2.6" fill="#0a7e14"/><circle cx="350.34" cy="275.72" r="2.6" fill="#0a7e14"/><circle cx="367.46" cy="248.13" r="2.6" fill="#0a7e14"/><circle cx="384.57" cy="248.13" r="2.6" fill="#0a7e14"/><circle cx="401.69" cy="253.65" r="2.6" fill="#0a7e14"/><circle cx="418.80" cy="259.17" r="2.6" fill="#0a7e14"/><circle cx="435.91" cy="231.58" r="2.6" fill="#0a7e14"/><circle cx="453.03" cy="209.52" r="2.6" fill="#0a7e14"/><circle cx="470.14" cy="226.07" r="2.6" fill="#0a7e14"/><circle cx="487.26" cy="198.48" r="2.6" fill="#0a7e14"/><circle cx="504.37" cy="198.48" r="2.6" fill="#0a7e14"/><circle cx="521.49" cy="209.52" r="2.6" fill="#0a7e14"/><circle cx="316.11" cy="253.65" r="2.6" fill="#9414e4"/><circle cx="333.23" cy="248.13" r="2.6" fill="#9414e4"/><circle cx="350.34" cy="286.75" r="2.6" fill="#9414e4"/><circle cx="367.46" cy="248.13" r="2.6" fill="#9414e4"/><circle cx="384.57" cy="253.65" r="2.6" fill="#9414e4"/><circle cx="401.69" cy="237.10" r="2.6" fill="#9414e4"/><circle cx="418.80" cy="231.58" r="2.6" fill="#9414e4"/><circle cx="435.91" cy="226.07" r="2.6" fill="#9414e4"/><circle cx="453.03" cy="220.55" r="2.6" fill="#9414e4"/><circle cx="470.14" cy="237.10" r="2.6" fill="#9414e4"/><circle cx="487.26" cy="204.00" r="2.6" fill="#9414e4"/><circle cx="504.37" cy="231.58" r="2.6" fill="#9414e4"/><circle cx="521.49" cy="220.55" r="2.6" fill="#9414e4"/><circle cx="316.11" cy="253.65" r="2.6" fill="#0808d4"/><circle cx="333.23" cy="281.23" r="2.6" fill="#0808d4"/><circle cx="350.34" cy="297.78" r="2.6" fill="#0808d4"/><circle cx="367.46" cy="270.20" r="2.6" fill="#0808d4"/><circle cx="384.57" cy="270.20" r="2.6" fill="#0808d4"/><circle cx="401.69" cy="270.20" r="2.6" fill="#0808d4"/><circle cx="418.80" cy="292.27" r="2.6" fill="#0808d4"/><circle cx="435.91" cy="275.72" r="2.6" fill="#0808d4"/><circle cx="453.03" cy="242.62" r="2.6" fill="#0808d4"/><circle cx="470.14" cy="270.20" r="2.6" fill="#0808d4"/><circle cx="487.26" cy="281.23" r="2.6" fill="#0808d4"/><circle cx="504.37" cy="286.75" r="2.6" fill="#0808d4"/><circle cx="521.49" cy="259.17" r="2.6" fill="#0808d4"/><rect x="299.00" y="170.90" width="239.60" height="165.50" fill="none" stroke="#8080a0" stroke-width="1"/><path d="M333.23 336.40v-2.2M333.23 170.90v2.2M367.46 336.40v-2.2M367.46 170.90v2.2M401.69 336.40v-2.2M401.69 170.90v2.2M435.91 336.40v-2.2M435.91 170.90v2.2M470.14 336.40v-2.2M470.14 170.90v2.2M504.37 336.40v-2.2M504.37 170.90v2.2M299.00 308.82h2.2M538.60 308.82h-2.2M299.00 281.23h2.2M538.60 281.23h-2.2M299.00 253.65h2.2M538.60 253.65h-2.2M299.00 226.07h2.2M538.60 226.07h-2.2M299.00 198.48h2.2M538.60 198.48h-2.2" stroke="#8080a0" stroke-width="0.6" fill="none"/><text x="296.00" y="311.42" font-size="6.1" font-weight="bold" text-anchor="end" fill="#1a1a1a" stroke="#1a1a1a" stroke-width="0.18">90</text><text x="296.00" y="283.83" font-size="6.1" font-weight="bold" text-anchor="end" fill="#1a1a1a" stroke="#1a1a1a" stroke-width="0.18">95</text><text x="296.00" y="256.25" font-size="6.1" font-weight="bold" text-anchor="end" fill="#1a1a1a" stroke="#1a1a1a" stroke-width="0.18">100</text><text x="296.00" y="228.67" font-size="6.1" font-weight="bold" text-anchor="end" fill="#1a1a1a" stroke="#1a1a1a" stroke-width="0.18">105</text><text x="296.00" y="201.08" font-size="6.1" font-weight="bold" text-anchor="end" fill="#1a1a1a" stroke="#1a1a1a" stroke-width="0.18">110</text><text x="299.00" y="346.40" font-size="6.1" font-weight="bold" text-anchor="middle" fill="#1a1a1a" stroke="#1a1a1a" stroke-width="0.18">0</text><text x="333.23" y="346.40" font-size="6.1" font-weight="bold" text-anchor="middle" fill="#1a1a1a" stroke="#1a1a1a" stroke-width="0.18">2</text><text x="367.46" y="346.40" font-size="6.1" font-weight="bold" text-anchor="middle" fill="#1a1a1a" stroke="#1a1a1a" stroke-width="0.18">4</text><text x="401.69" y="346.40" font-size="6.1" font-weight="bold" text-anchor="middle" fill="#1a1a1a" stroke="#1a1a1a" stroke-width="0.18">6</text><text x="435.91" y="346.40" font-size="6.1" font-weight="bold" text-anchor="middle" fill="#1a1a1a" stroke="#1a1a1a" stroke-width="0.18">8</text><text x="470.14" y="346.40" font-size="6.1" font-weight="bold" text-anchor="middle" fill="#1a1a1a" stroke="#1a1a1a" stroke-width="0.18">10</text><text x="504.37" y="346.40" font-size="6.1" font-weight="bold" text-anchor="middle" fill="#1a1a1a" stroke="#1a1a1a" stroke-width="0.18">12</text><text x="538.60" y="346.40" font-size="6.1" font-weight="bold" text-anchor="middle" fill="#1a1a1a" stroke="#1a1a1a" stroke-width="0.18">14</text><text x="418.80" y="356.40" font-size="7.3" font-weight="bold" text-anchor="middle" fill="#1a1a1a">Time (weeks)</text><text x="533.40" y="332.90" font-size="11" font-weight="bold" text-anchor="end" fill="#111">D</text><path d="M303.50 308.25h15.5" stroke="#eca064" stroke-width="1"/><circle cx="311.30" cy="308.25" r="2.35" fill="#f06414"/><text x="321.50" y="310.25" font-size="5.7" fill="#2a2a2a">80%</text><path d="M303.50 314.60h15.5" stroke="#5aa860" stroke-width="1"/><circle cx="311.30" cy="314.60" r="2.35" fill="#0a7e14"/><text x="321.50" y="316.60" font-size="5.7" fill="#2a2a2a">100%</text><path d="M303.50 320.95h15.5" stroke="#c080e8" stroke-width="1"/><circle cx="311.30" cy="320.95" r="2.35" fill="#9414e4"/><text x="321.50" y="322.95" font-size="5.7" fill="#2a2a2a">150%</text><path d="M303.50 327.30h15.5" stroke="#5a5ad4" stroke-width="1"/><circle cx="311.30" cy="327.30" r="2.35" fill="#0808d4"/><text x="321.50" y="329.30" font-size="5.7" fill="#2a2a2a">200%</text></g>
<g><rect x="163.3" y="361.6" width="240.0" height="165.1" fill="#fff"/><path d="M180.44 381.41V424.34M197.59 385.92V403.32M214.73 378.75V410.49M231.87 395.42V426.84M249.01 367.00V389.22M266.16 373.79V398.94M283.30 370.34V385.88M300.44 370.37V402.36M317.59 371.84V400.89M334.73 389.93V415.82M351.87 397.10V425.16M369.01 410.33V428.44M386.16 401.03V421.23M180.44 386.13V419.62M197.59 398.53V423.73M214.73 411.16V427.61M231.87 428.96V459.34M249.01 416.20V439.08M266.16 416.35V438.93M283.30 444.07V460.74M300.44 406.02V432.75M317.59 413.13V442.15M334.73 447.77V473.55M351.87 426.37V445.42M369.01 421.66V450.13M386.16 427.20V444.59M180.44 390.00V415.75M197.59 398.67V423.59M214.73 392.94V412.81M231.87 391.00V414.75M249.01 389.99V415.76M266.16 393.20V412.55M283.30 363.34V392.88M300.44 383.54V405.70M317.59 362.95V393.27M334.73 371.69V401.04M351.87 369.82V386.40M369.01 373.33V399.40M386.16 367.99V388.23M180.44 383.56V422.19M197.59 407.25V431.52M214.73 432.75V455.55M231.87 420.70V451.09M249.01 403.20V419.06M266.16 390.61V415.14M283.30 392.60V413.15M300.44 411.65V427.12M317.59 405.42V433.35M334.73 440.11V464.70M351.87 412.46V442.82M369.01 456.30V481.53M386.16 417.29V437.99" stroke="#c4c4c4" stroke-width="0.9" fill="none"/><path d="M179.44 381.41h2M179.44 424.34h2M196.59 385.92h2M196.59 403.32h2M213.73 378.75h2M213.73 410.49h2M230.87 395.42h2M230.87 426.84h2M248.01 367.00h2M248.01 389.22h2M265.16 373.79h2M265.16 398.94h2M282.30 370.34h2M282.30 385.88h2M299.44 370.37h2M299.44 402.36h2M316.59 371.84h2M316.59 400.89h2M333.73 389.93h2M333.73 415.82h2M350.87 397.10h2M350.87 425.16h2M368.01 410.33h2M368.01 428.44h2M385.16 401.03h2M385.16 421.23h2M179.44 386.13h2M179.44 419.62h2M196.59 398.53h2M196.59 423.73h2M213.73 411.16h2M213.73 427.61h2M230.87 428.96h2M230.87 459.34h2M248.01 416.20h2M248.01 439.08h2M265.16 416.35h2M265.16 438.93h2M282.30 444.07h2M282.30 460.74h2M299.44 406.02h2M299.44 432.75h2M316.59 413.13h2M316.59 442.15h2M333.73 447.77h2M333.73 473.55h2M350.87 426.37h2M350.87 445.42h2M368.01 421.66h2M368.01 450.13h2M385.16 427.20h2M385.16 444.59h2M179.44 390.00h2M179.44 415.75h2M196.59 398.67h2M196.59 423.59h2M213.73 392.94h2M213.73 412.81h2M230.87 391.00h2M230.87 414.75h2M248.01 389.99h2M248.01 415.76h2M265.16 393.20h2M265.16 412.55h2M282.30 363.34h2M282.30 392.88h2M299.44 383.54h2M299.44 405.70h2M316.59 362.95h2M316.59 393.27h2M333.73 371.69h2M333.73 401.04h2M350.87 369.82h2M350.87 386.40h2M368.01 373.33h2M368.01 399.40h2M385.16 367.99h2M385.16 388.23h2M179.44 383.56h2M179.44 422.19h2M196.59 407.25h2M196.59 431.52h2M213.73 432.75h2M213.73 455.55h2M230.87 420.70h2M230.87 451.09h2M248.01 403.20h2M248.01 419.06h2M265.16 390.61h2M265.16 415.14h2M282.30 392.60h2M282.30 413.15h2M299.44 411.65h2M299.44 427.12h2M316.59 405.42h2M316.59 433.35h2M333.73 440.11h2M333.73 464.70h2M350.87 412.46h2M350.87 442.82h2M368.01 456.30h2M368.01 481.53h2M385.16 417.29h2M385.16 437.99h2" stroke="#8c8c8c" stroke-width="0.6" fill="none"/><path d="M180.44,401.99 L181.30,401.58 L182.16,401.18 L183.01,400.78 L183.87,400.38 L184.73,399.98 L185.59,399.60 L186.44,399.22 L187.30,398.85 L188.16,398.49 L189.01,398.15 L189.87,397.82 L190.73,397.50 L191.59,397.20 L192.44,396.92 L193.30,396.66 L194.16,396.42 L195.01,396.20 L195.87,396.01 L196.73,395.84 L197.59,395.69 L198.44,395.57 L199.30,395.48 L200.16,395.42 L201.01,395.39 L201.87,395.38 L202.73,395.39 L203.59,395.44 L204.44,395.50 L205.30,395.60 L206.16,395.72 L207.01,395.86 L207.87,396.03 L208.73,396.22 L209.59,396.43 L210.44,396.67 L211.30,396.94 L212.16,397.22 L213.01,397.53 L213.87,397.86 L214.73,398.21 L215.59,398.59 L216.44,398.98 L217.30,399.38 L218.16,399.78 L219.01,400.18 L219.87,400.58 L220.73,400.96 L221.59,401.32 L222.44,401.65 L223.30,401.96 L224.16,402.22 L225.01,402.45 L225.87,402.62 L226.73,402.74 L227.59,402.80 L228.44,402.79 L229.30,402.71 L230.16,402.55 L231.01,402.31 L231.87,401.97 L232.73,401.55 L233.59,401.03 L234.44,400.43 L235.30,399.77 L236.16,399.04 L237.01,398.25 L237.87,397.42 L238.73,396.56 L239.59,395.66 L240.44,394.74 L241.30,393.81 L242.16,392.88 L243.01,391.95 L243.87,391.04 L244.73,390.14 L245.59,389.28 L246.44,388.45 L247.30,387.67 L248.16,386.95 L249.01,386.28 L249.87,385.69 L250.73,385.17 L251.59,384.70 L252.44,384.30 L253.30,383.95 L254.16,383.65 L255.01,383.40 L255.87,383.19 L256.73,383.01 L257.59,382.87 L258.44,382.75 L259.30,382.66 L260.16,382.59 L261.01,382.53 L261.87,382.48 L262.73,382.44 L263.59,382.40 L264.44,382.36 L265.30,382.31 L266.16,382.25 L267.01,382.17 L267.87,382.09 L268.73,381.99 L269.59,381.88 L270.44,381.76 L271.30,381.64 L272.16,381.51 L273.01,381.38 L273.87,381.26 L274.73,381.14 L275.59,381.02 L276.44,380.91 L277.30,380.80 L278.16,380.71 L279.01,380.63 L279.87,380.57 L280.73,380.53 L281.59,380.50 L282.44,380.50 L283.30,380.51 L284.16,380.56 L285.01,380.63 L285.87,380.71 L286.73,380.83 L287.59,380.95 L288.44,381.10 L289.30,381.26 L290.16,381.44 L291.01,381.62 L291.87,381.82 L292.73,382.03 L293.59,382.24 L294.44,382.46 L295.30,382.68 L296.16,382.90 L297.01,383.12 L297.87,383.35 L298.73,383.56 L299.59,383.78 L300.44,383.98 L301.30,384.18 L302.16,384.38 L303.01,384.56 L303.87,384.75 L304.73,384.94 L305.59,385.12 L306.44,385.31 L307.30,385.51 L308.16,385.72 L309.01,385.93 L309.87,386.16 L310.73,386.40 L311.59,386.65 L312.44,386.93 L313.30,387.22 L314.16,387.54 L315.01,387.88 L315.87,388.25 L316.73,388.64 L317.59,389.06 L318.44,389.52 L319.30,390.01 L320.16,390.52 L321.01,391.06 L321.87,391.62 L322.73,392.21 L323.59,392.81 L324.44,393.43 L325.30,394.06 L326.16,394.71 L327.01,395.37 L327.87,396.03 L328.73,396.70 L329.59,397.38 L330.44,398.05 L331.30,398.73 L332.16,399.40 L333.01,400.06 L333.87,400.72 L334.73,401.37 L335.59,402.01 L336.44,402.64 L337.30,403.25 L338.16,403.86 L339.01,404.45 L339.87,405.03 L340.73,405.60 L341.59,406.16 L342.44,406.71 L343.30,407.25 L344.16,407.78 L345.01,408.30 L345.87,408.81 L346.73,409.31 L347.59,409.80 L348.44,410.28 L349.30,410.75 L350.16,411.22 L351.01,411.67 L351.87,412.11 L352.73,412.55 L353.59,412.97 L354.44,413.39 L355.30,413.79 L356.16,414.18 L357.01,414.55 L357.87,414.90 L358.73,415.24 L359.59,415.56 L360.44,415.85 L361.30,416.12 L362.16,416.37 L363.01,416.60 L363.87,416.79 L364.73,416.96 L365.59,417.10 L366.44,417.21 L367.30,417.29 L368.16,417.33 L369.01,417.34 L369.87,417.31 L370.73,417.25 L371.59,417.15 L372.44,417.03 L373.30,416.87 L374.16,416.69 L375.01,416.48 L375.87,416.25 L376.73,416.00 L377.59,415.72 L378.44,415.43 L379.30,415.12 L380.16,414.80 L381.01,414.47 L381.87,414.12 L382.73,413.77 L383.59,413.40 L384.44,413.04 L385.30,412.67 L386.16,412.29" stroke="#eca064" stroke-width="1" fill="none"/><path d="M180.44,402.58 L181.30,402.97 L182.16,403.36 L183.01,403.75 L183.87,404.15 L184.73,404.54 L185.59,404.93 L186.44,405.33 L187.30,405.73 L188.16,406.14 L189.01,406.55 L189.87,406.96 L190.73,407.38 L191.59,407.81 L192.44,408.24 L193.30,408.67 L194.16,409.12 L195.01,409.57 L195.87,410.03 L196.73,410.49 L197.59,410.97 L198.44,411.45 L199.30,411.95 L200.16,412.45 L201.01,412.97 L201.87,413.50 L202.73,414.04 L203.59,414.59 L204.44,415.16 L205.30,415.74 L206.16,416.34 L207.01,416.95 L207.87,417.58 L208.73,418.23 L209.59,418.90 L210.44,419.58 L211.30,420.29 L212.16,421.01 L213.01,421.76 L213.87,422.53 L214.73,423.32 L215.59,424.13 L216.44,424.96 L217.30,425.81 L218.16,426.66 L219.01,427.51 L219.87,428.36 L220.73,429.19 L221.59,430.02 L222.44,430.82 L223.30,431.60 L224.16,432.34 L225.01,433.05 L225.87,433.72 L226.73,434.34 L227.59,434.90 L228.44,435.41 L229.30,435.86 L230.16,436.23 L231.01,436.53 L231.87,436.75 L232.73,436.89 L233.59,436.94 L234.44,436.93 L235.30,436.84 L236.16,436.70 L237.01,436.50 L237.87,436.25 L238.73,435.96 L239.59,435.63 L240.44,435.27 L241.30,434.89 L242.16,434.48 L243.01,434.07 L243.87,433.65 L244.73,433.23 L245.59,432.82 L246.44,432.41 L247.30,432.03 L248.16,431.67 L249.01,431.34 L249.87,431.05 L250.73,430.79 L251.59,430.58 L252.44,430.40 L253.30,430.25 L254.16,430.15 L255.01,430.09 L255.87,430.06 L256.73,430.07 L257.59,430.13 L258.44,430.22 L259.30,430.35 L260.16,430.53 L261.01,430.74 L261.87,431.00 L262.73,431.30 L263.59,431.64 L264.44,432.02 L265.30,432.45 L266.16,432.92 L267.01,433.43 L267.87,433.98 L268.73,434.55 L269.59,435.15 L270.44,435.75 L271.30,436.36 L272.16,436.97 L273.01,437.56 L273.87,438.13 L274.73,438.68 L275.59,439.19 L276.44,439.66 L277.30,440.07 L278.16,440.43 L279.01,440.71 L279.87,440.93 L280.73,441.06 L281.59,441.09 L282.44,441.03 L283.30,440.87 L284.16,440.59 L285.01,440.20 L285.87,439.72 L286.73,439.16 L287.59,438.52 L288.44,437.82 L289.30,437.06 L290.16,436.26 L291.01,435.43 L291.87,434.57 L292.73,433.69 L293.59,432.82 L294.44,431.95 L295.30,431.10 L296.16,430.27 L297.01,429.48 L297.87,428.74 L298.73,428.05 L299.59,427.43 L300.44,426.89 L301.30,426.44 L302.16,426.07 L303.01,425.78 L303.87,425.58 L304.73,425.46 L305.59,425.41 L306.44,425.45 L307.30,425.56 L308.16,425.74 L309.01,426.00 L309.87,426.33 L310.73,426.73 L311.59,427.20 L312.44,427.73 L313.30,428.33 L314.16,428.99 L315.01,429.71 L315.87,430.50 L316.73,431.34 L317.59,432.23 L318.44,433.18 L319.30,434.18 L320.16,435.22 L321.01,436.28 L321.87,437.36 L322.73,438.46 L323.59,439.56 L324.44,440.65 L325.30,441.72 L326.16,442.77 L327.01,443.79 L327.87,444.77 L328.73,445.69 L329.59,446.56 L330.44,447.36 L331.30,448.08 L332.16,448.71 L333.01,449.26 L333.87,449.69 L334.73,450.02 L335.59,450.23 L336.44,450.32 L337.30,450.31 L338.16,450.20 L339.01,450.01 L339.87,449.73 L340.73,449.37 L341.59,448.96 L342.44,448.48 L343.30,447.95 L344.16,447.38 L345.01,446.78 L345.87,446.14 L346.73,445.49 L347.59,444.83 L348.44,444.17 L349.30,443.51 L350.16,442.86 L351.01,442.23 L351.87,441.63 L352.73,441.06 L353.59,440.53 L354.44,440.03 L355.30,439.57 L356.16,439.13 L357.01,438.73 L357.87,438.35 L358.73,438.00 L359.59,437.68 L360.44,437.39 L361.30,437.12 L362.16,436.87 L363.01,436.64 L363.87,436.44 L364.73,436.26 L365.59,436.09 L366.44,435.94 L367.30,435.81 L368.16,435.70 L369.01,435.60 L369.87,435.51 L370.73,435.43 L371.59,435.37 L372.44,435.32 L373.30,435.28 L374.16,435.24 L375.01,435.22 L375.87,435.21 L376.73,435.20 L377.59,435.20 L378.44,435.21 L379.30,435.23 L380.16,435.25 L381.01,435.27 L381.87,435.30 L382.73,435.33 L383.59,435.36 L384.44,435.40 L385.30,435.43 L386.16,435.47" stroke="#5aa860" stroke-width="1" fill="none"/><path d="M180.44,403.98 L181.30,404.31 L182.16,404.65 L183.01,404.98 L183.87,405.31 L184.73,405.63 L185.59,405.94 L186.44,406.25 L187.30,406.54 L188.16,406.81 L189.01,407.07 L189.87,407.32 L190.73,407.54 L191.59,407.74 L192.44,407.93 L193.30,408.08 L194.16,408.22 L195.01,408.32 L195.87,408.39 L196.73,408.44 L197.59,408.45 L198.44,408.43 L199.30,408.37 L200.16,408.29 L201.01,408.18 L201.87,408.04 L202.73,407.89 L203.59,407.71 L204.44,407.51 L205.30,407.30 L206.16,407.08 L207.01,406.85 L207.87,406.62 L208.73,406.37 L209.59,406.13 L210.44,405.88 L211.30,405.64 L212.16,405.40 L213.01,405.17 L213.87,404.95 L214.73,404.75 L215.59,404.55 L216.44,404.38 L217.30,404.21 L218.16,404.06 L219.01,403.92 L219.87,403.80 L220.73,403.69 L221.59,403.58 L222.44,403.50 L223.30,403.42 L224.16,403.35 L225.01,403.29 L225.87,403.24 L226.73,403.20 L227.59,403.17 L228.44,403.15 L229.30,403.13 L230.16,403.12 L231.01,403.12 L231.87,403.13 L232.73,403.14 L233.59,403.15 L234.44,403.17 L235.30,403.20 L236.16,403.22 L237.01,403.25 L237.87,403.28 L238.73,403.31 L239.59,403.33 L240.44,403.36 L241.30,403.38 L242.16,403.40 L243.01,403.41 L243.87,403.42 L244.73,403.43 L245.59,403.42 L246.44,403.41 L247.30,403.39 L248.16,403.36 L249.01,403.32 L249.87,403.27 L250.73,403.21 L251.59,403.13 L252.44,403.03 L253.30,402.92 L254.16,402.79 L255.01,402.64 L255.87,402.47 L256.73,402.27 L257.59,402.05 L258.44,401.80 L259.30,401.53 L260.16,401.22 L261.01,400.89 L261.87,400.52 L262.73,400.11 L263.59,399.67 L264.44,399.19 L265.30,398.68 L266.16,398.12 L267.01,397.52 L267.87,396.89 L268.73,396.22 L269.59,395.53 L270.44,394.82 L271.30,394.10 L272.16,393.38 L273.01,392.65 L273.87,391.92 L274.73,391.21 L275.59,390.51 L276.44,389.84 L277.30,389.20 L278.16,388.59 L279.01,388.01 L279.87,387.49 L280.73,387.02 L281.59,386.60 L282.44,386.25 L283.30,385.97 L284.16,385.76 L285.01,385.63 L285.87,385.55 L286.73,385.53 L287.59,385.56 L288.44,385.64 L289.30,385.75 L290.16,385.89 L291.01,386.06 L291.87,386.24 L292.73,386.44 L293.59,386.64 L294.44,386.84 L295.30,387.03 L296.16,387.21 L297.01,387.36 L297.87,387.49 L298.73,387.59 L299.59,387.65 L300.44,387.66 L301.30,387.62 L302.16,387.53 L303.01,387.40 L303.87,387.23 L304.73,387.03 L305.59,386.79 L306.44,386.53 L307.30,386.25 L308.16,385.95 L309.01,385.64 L309.87,385.33 L310.73,385.00 L311.59,384.68 L312.44,384.37 L313.30,384.06 L314.16,383.77 L315.01,383.50 L315.87,383.26 L316.73,383.04 L317.59,382.85 L318.44,382.70 L319.30,382.58 L320.16,382.50 L321.01,382.44 L321.87,382.41 L322.73,382.40 L323.59,382.40 L324.44,382.43 L325.30,382.47 L326.16,382.52 L327.01,382.58 L327.87,382.64 L328.73,382.70 L329.59,382.76 L330.44,382.82 L331.30,382.87 L332.16,382.91 L333.01,382.94 L333.87,382.96 L334.73,382.95 L335.59,382.92 L336.44,382.88 L337.30,382.81 L338.16,382.74 L339.01,382.65 L339.87,382.55 L340.73,382.44 L341.59,382.33 L342.44,382.21 L343.30,382.10 L344.16,381.99 L345.01,381.88 L345.87,381.78 L346.73,381.69 L347.59,381.61 L348.44,381.55 L349.30,381.50 L350.16,381.47 L351.01,381.47 L351.87,381.48 L352.73,381.53 L353.59,381.59 L354.44,381.68 L355.30,381.78 L356.16,381.90 L357.01,382.04 L357.87,382.18 L358.73,382.32 L359.59,382.47 L360.44,382.63 L361.30,382.77 L362.16,382.92 L363.01,383.05 L363.87,383.18 L364.73,383.29 L365.59,383.39 L366.44,383.46 L367.30,383.51 L368.16,383.54 L369.01,383.54 L369.87,383.51 L370.73,383.45 L371.59,383.36 L372.44,383.25 L373.30,383.11 L374.16,382.94 L375.01,382.76 L375.87,382.56 L376.73,382.33 L377.59,382.09 L378.44,381.84 L379.30,381.57 L380.16,381.29 L381.01,381.00 L381.87,380.69 L382.73,380.38 L383.59,380.07 L384.44,379.75 L385.30,379.43 L386.16,379.10" stroke="#c080e8" stroke-width="1" fill="none"/><path d="M180.44,402.54 L181.30,403.51 L182.16,404.47 L183.01,405.44 L183.87,406.41 L184.73,407.39 L185.59,408.36 L186.44,409.34 L187.30,410.32 L188.16,411.31 L189.01,412.30 L189.87,413.30 L190.73,414.30 L191.59,415.31 L192.44,416.33 L193.30,417.35 L194.16,418.38 L195.01,419.42 L195.87,420.47 L196.73,421.52 L197.59,422.59 L198.44,423.67 L199.30,424.75 L200.16,425.84 L201.01,426.92 L201.87,427.99 L202.73,429.06 L203.59,430.10 L204.44,431.13 L205.30,432.13 L206.16,433.10 L207.01,434.03 L207.87,434.93 L208.73,435.78 L209.59,436.59 L210.44,437.34 L211.30,438.04 L212.16,438.68 L213.01,439.25 L213.87,439.75 L214.73,440.17 L215.59,440.52 L216.44,440.79 L217.30,440.98 L218.16,441.10 L219.01,441.15 L219.87,441.13 L220.73,441.04 L221.59,440.88 L222.44,440.65 L223.30,440.37 L224.16,440.02 L225.01,439.61 L225.87,439.14 L226.73,438.61 L227.59,438.04 L228.44,437.40 L229.30,436.72 L230.16,435.99 L231.01,435.20 L231.87,434.38 L232.73,433.50 L233.59,432.59 L234.44,431.64 L235.30,430.66 L236.16,429.65 L237.01,428.62 L237.87,427.57 L238.73,426.50 L239.59,425.42 L240.44,424.33 L241.30,423.24 L242.16,422.15 L243.01,421.06 L243.87,419.99 L244.73,418.92 L245.59,417.88 L246.44,416.85 L247.30,415.85 L248.16,414.88 L249.01,413.94 L249.87,413.04 L250.73,412.18 L251.59,411.35 L252.44,410.57 L253.30,409.81 L254.16,409.10 L255.01,408.42 L255.87,407.77 L256.73,407.16 L257.59,406.59 L258.44,406.05 L259.30,405.54 L260.16,405.07 L261.01,404.63 L261.87,404.23 L262.73,403.86 L263.59,403.52 L264.44,403.21 L265.30,402.94 L266.16,402.70 L267.01,402.49 L267.87,402.31 L268.73,402.17 L269.59,402.06 L270.44,401.97 L271.30,401.92 L272.16,401.91 L273.01,401.92 L273.87,401.97 L274.73,402.04 L275.59,402.15 L276.44,402.29 L277.30,402.46 L278.16,402.67 L279.01,402.90 L279.87,403.17 L280.73,403.47 L281.59,403.80 L282.44,404.16 L283.30,404.55 L284.16,404.98 L285.01,405.43 L285.87,405.91 L286.73,406.41 L287.59,406.93 L288.44,407.48 L289.30,408.03 L290.16,408.61 L291.01,409.19 L291.87,409.78 L292.73,410.37 L293.59,410.97 L294.44,411.56 L295.30,412.16 L296.16,412.74 L297.01,413.32 L297.87,413.89 L298.73,414.45 L299.59,414.99 L300.44,415.51 L301.30,416.01 L302.16,416.50 L303.01,416.97 L303.87,417.42 L304.73,417.87 L305.59,418.32 L306.44,418.77 L307.30,419.21 L308.16,419.67 L309.01,420.13 L309.87,420.61 L310.73,421.10 L311.59,421.62 L312.44,422.15 L313.30,422.71 L314.16,423.31 L315.01,423.93 L315.87,424.60 L316.73,425.30 L317.59,426.05 L318.44,426.84 L319.30,427.67 L320.16,428.54 L321.01,429.43 L321.87,430.34 L322.73,431.26 L323.59,432.19 L324.44,433.12 L325.30,434.03 L326.16,434.93 L327.01,435.81 L327.87,436.66 L328.73,437.47 L329.59,438.24 L330.44,438.96 L331.30,439.62 L332.16,440.21 L333.01,440.73 L333.87,441.18 L334.73,441.54 L335.59,441.80 L336.44,441.99 L337.30,442.10 L338.16,442.15 L339.01,442.15 L339.87,442.10 L340.73,442.02 L341.59,441.92 L342.44,441.81 L343.30,441.69 L344.16,441.58 L345.01,441.48 L345.87,441.42 L346.73,441.39 L347.59,441.41 L348.44,441.48 L349.30,441.62 L350.16,441.84 L351.01,442.15 L351.87,442.55 L352.73,443.06 L353.59,443.66 L354.44,444.34 L355.30,445.09 L356.16,445.89 L357.01,446.73 L357.87,447.60 L358.73,448.48 L359.59,449.36 L360.44,450.23 L361.30,451.08 L362.16,451.88 L363.01,452.63 L363.87,453.32 L364.73,453.93 L365.59,454.44 L366.44,454.85 L367.30,455.14 L368.16,455.29 L369.01,455.30 L369.87,455.16 L370.73,454.86 L371.59,454.42 L372.44,453.85 L373.30,453.14 L374.16,452.32 L375.01,451.39 L375.87,450.35 L376.73,449.22 L377.59,448.00 L378.44,446.70 L379.30,445.33 L380.16,443.89 L381.01,442.40 L381.87,440.86 L382.73,439.29 L383.59,437.68 L384.44,436.04 L385.30,434.39 L386.16,432.73" stroke="#5a5ad4" stroke-width="1" fill="none"/><circle cx="180.44" cy="402.88" r="2.6" fill="#f06414"/><circle cx="197.59" cy="394.62" r="2.6" fill="#f06414"/><circle cx="214.73" cy="394.62" r="2.6" fill="#f06414"/><circle cx="231.87" cy="411.13" r="2.6" fill="#f06414"/><circle cx="249.01" cy="378.11" r="2.6" fill="#f06414"/><circle cx="266.16" cy="386.37" r="2.6" fill="#f06414"/><circle cx="283.30" cy="378.11" r="2.6" fill="#f06414"/><circle cx="300.44" cy="386.37" r="2.6" fill="#f06414"/><circle cx="317.59" cy="386.37" r="2.6" fill="#f06414"/><circle cx="334.73" cy="402.88" r="2.6" fill="#f06414"/><circle cx="351.87" cy="411.13" r="2.6" fill="#f06414"/><circle cx="369.01" cy="419.39" r="2.6" fill="#f06414"/><circle cx="386.16" cy="411.13" r="2.6" fill="#f06414"/><circle cx="180.44" cy="402.88" r="2.6" fill="#0a7e14"/><circle cx="197.59" cy="411.13" r="2.6" fill="#0a7e14"/><circle cx="214.73" cy="419.39" r="2.6" fill="#0a7e14"/><circle cx="231.87" cy="444.15" r="2.6" fill="#0a7e14"/><circle cx="249.01" cy="427.64" r="2.6" fill="#0a7e14"/><circle cx="266.16" cy="427.64" r="2.6" fill="#0a7e14"/><circle cx="283.30" cy="452.41" r="2.6" fill="#0a7e14"/><circle cx="300.44" cy="419.39" r="2.6" fill="#0a7e14"/><circle cx="317.59" cy="427.64" r="2.6" fill="#0a7e14"/><circle cx="334.73" cy="460.66" r="2.6" fill="#0a7e14"/><circle cx="351.87" cy="435.90" r="2.6" fill="#0a7e14"/><circle cx="369.01" cy="435.90" r="2.6" fill="#0a7e14"/><circle cx="386.16" cy="435.90" r="2.6" fill="#0a7e14"/><circle cx="180.44" cy="402.88" r="2.6" fill="#9414e4"/><circle cx="197.59" cy="411.13" r="2.6" fill="#9414e4"/><circle cx="214.73" cy="402.88" r="2.6" fill="#9414e4"/><circle cx="231.87" cy="402.88" r="2.6" fill="#9414e4"/><circle cx="249.01" cy="402.88" r="2.6" fill="#9414e4"/><circle cx="266.16" cy="402.88" r="2.6" fill="#9414e4"/><circle cx="283.30" cy="378.11" r="2.6" fill="#9414e4"/><circle cx="300.44" cy="394.62" r="2.6" fill="#9414e4"/><circle cx="317.59" cy="378.11" r="2.6" fill="#9414e4"/><circle cx="334.73" cy="386.37" r="2.6" fill="#9414e4"/><circle cx="351.87" cy="378.11" r="2.6" fill="#9414e4"/><circle cx="369.01" cy="386.37" r="2.6" fill="#9414e4"/><circle cx="386.16" cy="378.11" r="2.6" fill="#9414e4"/><circle cx="180.44" cy="402.88" r="2.6" fill="#0808d4"/><circle cx="197.59" cy="419.39" r="2.6" fill="#0808d4"/><circle cx="214.73" cy="444.15" r="2.6" fill="#0808d4"/><circle cx="231.87" cy="435.90" r="2.6" fill="#0808d4"/><circle cx="249.01" cy="411.13" r="2.6" fill="#0808d4"/><circle cx="266.16" cy="402.88" r="2.6" fill="#0808d4"/><circle cx="283.30" cy="402.88" r="2.6" fill="#0808d4"/><circle cx="300.44" cy="419.39" r="2.6" fill="#0808d4"/><circle cx="317.59" cy="419.39" r="2.6" fill="#0808d4"/><circle cx="334.73" cy="452.41" r="2.6" fill="#0808d4"/><circle cx="351.87" cy="427.64" r="2.6" fill="#0808d4"/><circle cx="369.01" cy="468.92" r="2.6" fill="#0808d4"/><circle cx="386.16" cy="427.64" r="2.6" fill="#0808d4"/><rect x="163.30" y="361.60" width="240.00" height="165.10" fill="none" stroke="#8080a0" stroke-width="1"/><path d="M197.59 526.70v-2.2M197.59 361.60v2.2M231.87 526.70v-2.2M231.87 361.60v2.2M266.16 526.70v-2.2M266.16 361.60v2.2M300.44 526.70v-2.2M300.44 361.60v2.2M334.73 526.70v-2.2M334.73 361.60v2.2M369.01 526.70v-2.2M369.01 361.60v2.2M163.30 526.70h2.2M403.30 526.70h-2.2M163.30 485.43h2.2M403.30 485.43h-2.2M163.30 444.15h2.2M403.30 444.15h-2.2M163.30 402.88h2.2M403.30 402.88h-2.2M163.30 361.60h2.2M403.30 361.60h-2.2" stroke="#8080a0" stroke-width="0.6" fill="none"/><text x="160.30" y="529.30" font-size="6.1" font-weight="bold" text-anchor="end" fill="#1a1a1a" stroke="#1a1a1a" stroke-width="0.18">85</text><text x="160.30" y="488.03" font-size="6.1" font-weight="bold" text-anchor="end" fill="#1a1a1a" stroke="#1a1a1a" stroke-width="0.18">90</text><text x="160.30" y="446.75" font-size="6.1" font-weight="bold" text-anchor="end" fill="#1a1a1a" stroke="#1a1a1a" stroke-width="0.18">95</text><text x="160.30" y="405.48" font-size="6.1" font-weight="bold" text-anchor="end" fill="#1a1a1a" stroke="#1a1a1a" stroke-width="0.18">100</text><text x="160.30" y="364.20" font-size="6.1" font-weight="bold" text-anchor="end" fill="#1a1a1a" stroke="#1a1a1a" stroke-width="0.18">105</text><text x="163.30" y="536.70" font-size="6.1" font-weight="bold" text-anchor="middle" fill="#1a1a1a" stroke="#1a1a1a" stroke-width="0.18">0</text><text x="197.59" y="536.70" font-size="6.1" font-weight="bold" text-anchor="middle" fill="#1a1a1a" stroke="#1a1a1a" stroke-width="0.18">2</text><text x="231.87" y="536.70" font-size="6.1" font-weight="bold" text-anchor="middle" fill="#1a1a1a" stroke="#1a1a1a" stroke-width="0.18">4</text><text x="266.16" y="536.70" font-size="6.1" font-weight="bold" text-anchor="middle" fill="#1a1a1a" stroke="#1a1a1a" stroke-width="0.18">6</text><text x="300.44" y="536.70" font-size="6.1" font-weight="bold" text-anchor="middle" fill="#1a1a1a" stroke="#1a1a1a" stroke-width="0.18">8</text><text x="334.73" y="536.70" font-size="6.1" font-weight="bold" text-anchor="middle" fill="#1a1a1a" stroke="#1a1a1a" stroke-width="0.18">10</text><text x="369.01" y="536.70" font-size="6.1" font-weight="bold" text-anchor="middle" fill="#1a1a1a" stroke="#1a1a1a" stroke-width="0.18">12</text><text x="403.30" y="536.70" font-size="6.1" font-weight="bold" text-anchor="middle" fill="#1a1a1a" stroke="#1a1a1a" stroke-width="0.18">14</text><text x="283.30" y="546.70" font-size="7.3" font-weight="bold" text-anchor="middle" fill="#1a1a1a">Time (weeks)</text><text x="398.10" y="523.20" font-size="11" font-weight="bold" text-anchor="end" fill="#111">E</text><path d="M167.80 498.55h15.5" stroke="#eca064" stroke-width="1"/><circle cx="175.60" cy="498.55" r="2.35" fill="#f06414"/><text x="185.80" y="500.55" font-size="5.7" fill="#2a2a2a">80%</text><path d="M167.80 504.90h15.5" stroke="#5aa860" stroke-width="1"/><circle cx="175.60" cy="504.90" r="2.35" fill="#0a7e14"/><text x="185.80" y="506.90" font-size="5.7" fill="#2a2a2a">100%</text><path d="M167.80 511.25h15.5" stroke="#c080e8" stroke-width="1"/><circle cx="175.60" cy="511.25" r="2.35" fill="#9414e4"/><text x="185.80" y="513.25" font-size="5.7" fill="#2a2a2a">150%</text><path d="M167.80 517.60h15.5" stroke="#5a5ad4" stroke-width="1"/><circle cx="175.60" cy="517.60" r="2.35" fill="#0808d4"/><text x="185.80" y="519.60" font-size="5.7" fill="#2a2a2a">200%</text></g>
<text transform="translate(12.80 88.40) rotate(-90)" font-size="7.5" font-weight="bold" text-anchor="middle" fill="#1a1a1a">Chlorophyll (%)</text>
<text transform="translate(283.40 88.00) rotate(-90)" font-size="7.5" font-weight="bold" text-anchor="middle" fill="#1a1a1a">Performance Index (%)</text>
<text transform="translate(8.3 252.3) rotate(-90)" font-size="7.2" font-weight="bold" text-anchor="middle" fill="#1a1a1a">F<tspan font-size="5.6" dy="1.7">V</tspan><tspan dy="-1.7">/F</tspan><tspan font-size="5.6" dy="1.7">M</tspan><tspan dy="-1.7"> (%)</tspan></text>
<text transform="translate(283.40 253.00) rotate(-90)" font-size="7.5" font-weight="bold" text-anchor="middle" fill="#1a1a1a">RC/ABS (%)</text>
<text transform="translate(147.6 444) rotate(-90)" font-size="7.2" font-weight="bold" text-anchor="middle" fill="#1a1a1a">F<tspan font-size="5.6" dy="1.7">V</tspan><tspan dy="-1.7">/F</tspan><tspan font-size="5.6" dy="1.7">0</tspan><tspan dy="-1.7"> (%)</tspan></text>
<path d="M29 170.5H269M299 170.7H538.6" stroke="#50508a" stroke-width="1.1"/>
</svg></body></html>
